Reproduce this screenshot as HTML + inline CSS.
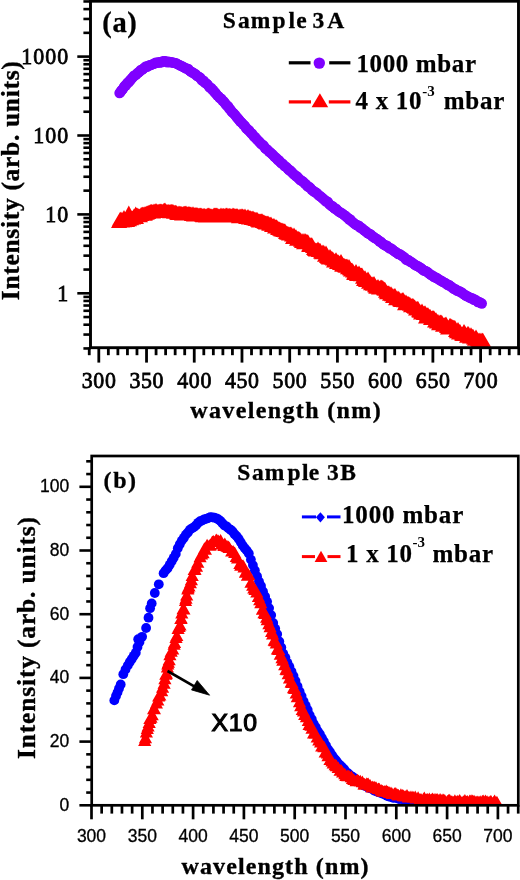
<!DOCTYPE html><html><head><meta charset="utf-8"><title>PL spectra</title><style>html,body{margin:0;padding:0;background:#fff;width:520px;height:880px;overflow:hidden}svg{display:block;filter:blur(0.3px)}</style></head><body>
<svg width="520" height="880" viewBox="0 0 520 880">
<rect x="0" y="0" width="520" height="880" fill="#fff"/>
<defs><clipPath id="ca"><rect x="90.5" y="1.2" width="428" height="346.3"/></clipPath><clipPath id="cb"><rect x="91.7" y="456" width="426.6" height="349.3"/></clipPath></defs>
<g clip-path="url(#ca)">
<circle cx="119.5" cy="93.1" r="5.2" fill="#7f00ff"/>
<circle cx="120.4" cy="92.3" r="5.2" fill="#7f00ff"/>
<circle cx="121.2" cy="90.8" r="5.2" fill="#7f00ff"/>
<circle cx="122.1" cy="89.9" r="5.2" fill="#7f00ff"/>
<circle cx="123.0" cy="88.7" r="5.2" fill="#7f00ff"/>
<circle cx="124.0" cy="86.9" r="5.2" fill="#7f00ff"/>
<circle cx="124.9" cy="85.6" r="5.2" fill="#7f00ff"/>
<circle cx="125.8" cy="85.5" r="5.2" fill="#7f00ff"/>
<circle cx="126.8" cy="83.6" r="5.2" fill="#7f00ff"/>
<circle cx="127.8" cy="82.4" r="5.2" fill="#7f00ff"/>
<circle cx="128.8" cy="82.2" r="5.2" fill="#7f00ff"/>
<circle cx="129.8" cy="80.5" r="5.2" fill="#7f00ff"/>
<circle cx="130.8" cy="79.8" r="5.2" fill="#7f00ff"/>
<circle cx="131.8" cy="78.3" r="5.2" fill="#7f00ff"/>
<circle cx="132.9" cy="77.4" r="5.2" fill="#7f00ff"/>
<circle cx="133.9" cy="75.8" r="5.2" fill="#7f00ff"/>
<circle cx="135.0" cy="75.4" r="5.2" fill="#7f00ff"/>
<circle cx="136.2" cy="74.6" r="5.2" fill="#7f00ff"/>
<circle cx="137.3" cy="73.2" r="5.2" fill="#7f00ff"/>
<circle cx="138.4" cy="72.5" r="5.2" fill="#7f00ff"/>
<circle cx="139.6" cy="71.5" r="5.2" fill="#7f00ff"/>
<circle cx="140.8" cy="69.9" r="5.2" fill="#7f00ff"/>
<circle cx="142.0" cy="69.8" r="5.2" fill="#7f00ff"/>
<circle cx="143.3" cy="68.8" r="5.2" fill="#7f00ff"/>
<circle cx="144.5" cy="67.6" r="5.2" fill="#7f00ff"/>
<circle cx="145.8" cy="66.5" r="5.2" fill="#7f00ff"/>
<circle cx="147.1" cy="66.8" r="5.2" fill="#7f00ff"/>
<circle cx="148.5" cy="65.6" r="5.2" fill="#7f00ff"/>
<circle cx="149.8" cy="65.3" r="5.2" fill="#7f00ff"/>
<circle cx="151.2" cy="64.9" r="5.2" fill="#7f00ff"/>
<circle cx="152.6" cy="64.1" r="5.2" fill="#7f00ff"/>
<circle cx="154.0" cy="63.9" r="5.2" fill="#7f00ff"/>
<circle cx="155.4" cy="62.8" r="5.2" fill="#7f00ff"/>
<circle cx="156.9" cy="62.9" r="5.2" fill="#7f00ff"/>
<circle cx="158.3" cy="62.2" r="5.2" fill="#7f00ff"/>
<circle cx="159.8" cy="62.5" r="5.2" fill="#7f00ff"/>
<circle cx="161.3" cy="62.3" r="5.2" fill="#7f00ff"/>
<circle cx="162.8" cy="61.2" r="5.2" fill="#7f00ff"/>
<circle cx="164.3" cy="61.2" r="5.2" fill="#7f00ff"/>
<circle cx="165.8" cy="61.3" r="5.2" fill="#7f00ff"/>
<circle cx="167.3" cy="62.3" r="5.2" fill="#7f00ff"/>
<circle cx="168.8" cy="61.8" r="5.2" fill="#7f00ff"/>
<circle cx="170.3" cy="62.2" r="5.2" fill="#7f00ff"/>
<circle cx="171.8" cy="62.1" r="5.2" fill="#7f00ff"/>
<circle cx="173.2" cy="62.7" r="5.2" fill="#7f00ff"/>
<circle cx="174.7" cy="62.9" r="5.2" fill="#7f00ff"/>
<circle cx="176.1" cy="63.3" r="5.2" fill="#7f00ff"/>
<circle cx="177.5" cy="64.1" r="5.2" fill="#7f00ff"/>
<circle cx="178.9" cy="64.6" r="5.2" fill="#7f00ff"/>
<circle cx="180.3" cy="65.6" r="5.2" fill="#7f00ff"/>
<circle cx="181.7" cy="66.0" r="5.2" fill="#7f00ff"/>
<circle cx="183.0" cy="66.9" r="5.2" fill="#7f00ff"/>
<circle cx="184.4" cy="67.5" r="5.2" fill="#7f00ff"/>
<circle cx="185.7" cy="68.4" r="5.2" fill="#7f00ff"/>
<circle cx="187.0" cy="68.8" r="5.2" fill="#7f00ff"/>
<circle cx="188.3" cy="68.9" r="5.2" fill="#7f00ff"/>
<circle cx="189.5" cy="70.6" r="5.2" fill="#7f00ff"/>
<circle cx="190.8" cy="71.5" r="5.2" fill="#7f00ff"/>
<circle cx="192.0" cy="72.3" r="5.2" fill="#7f00ff"/>
<circle cx="193.2" cy="72.8" r="5.2" fill="#7f00ff"/>
<circle cx="194.4" cy="73.8" r="5.2" fill="#7f00ff"/>
<circle cx="195.6" cy="74.1" r="5.2" fill="#7f00ff"/>
<circle cx="196.8" cy="75.8" r="5.2" fill="#7f00ff"/>
<circle cx="198.0" cy="76.4" r="5.2" fill="#7f00ff"/>
<circle cx="199.1" cy="77.0" r="5.2" fill="#7f00ff"/>
<circle cx="200.3" cy="77.7" r="5.2" fill="#7f00ff"/>
<circle cx="201.4" cy="79.7" r="5.2" fill="#7f00ff"/>
<circle cx="202.5" cy="80.8" r="5.2" fill="#7f00ff"/>
<circle cx="203.7" cy="80.7" r="5.2" fill="#7f00ff"/>
<circle cx="204.8" cy="82.6" r="5.2" fill="#7f00ff"/>
<circle cx="205.9" cy="83.2" r="5.2" fill="#7f00ff"/>
<circle cx="207.0" cy="83.9" r="5.2" fill="#7f00ff"/>
<circle cx="208.0" cy="85.1" r="5.2" fill="#7f00ff"/>
<circle cx="209.1" cy="86.7" r="5.2" fill="#7f00ff"/>
<circle cx="210.2" cy="87.9" r="5.2" fill="#7f00ff"/>
<circle cx="211.2" cy="88.0" r="5.2" fill="#7f00ff"/>
<circle cx="212.3" cy="89.7" r="5.2" fill="#7f00ff"/>
<circle cx="213.3" cy="90.1" r="5.2" fill="#7f00ff"/>
<circle cx="214.3" cy="92.0" r="5.2" fill="#7f00ff"/>
<circle cx="215.4" cy="92.6" r="5.2" fill="#7f00ff"/>
<circle cx="216.4" cy="94.4" r="5.2" fill="#7f00ff"/>
<circle cx="217.4" cy="95.6" r="5.2" fill="#7f00ff"/>
<circle cx="218.4" cy="96.1" r="5.2" fill="#7f00ff"/>
<circle cx="219.5" cy="97.8" r="5.2" fill="#7f00ff"/>
<circle cx="220.5" cy="98.1" r="5.2" fill="#7f00ff"/>
<circle cx="221.5" cy="99.0" r="5.2" fill="#7f00ff"/>
<circle cx="222.5" cy="100.7" r="5.2" fill="#7f00ff"/>
<circle cx="223.5" cy="101.1" r="5.2" fill="#7f00ff"/>
<circle cx="224.5" cy="102.5" r="5.2" fill="#7f00ff"/>
<circle cx="225.4" cy="103.8" r="5.2" fill="#7f00ff"/>
<circle cx="226.4" cy="105.2" r="5.2" fill="#7f00ff"/>
<circle cx="227.4" cy="105.8" r="5.2" fill="#7f00ff"/>
<circle cx="228.4" cy="106.8" r="5.2" fill="#7f00ff"/>
<circle cx="229.4" cy="108.9" r="5.2" fill="#7f00ff"/>
<circle cx="230.4" cy="109.4" r="5.2" fill="#7f00ff"/>
<circle cx="231.4" cy="111.3" r="5.2" fill="#7f00ff"/>
<circle cx="232.3" cy="112.4" r="5.2" fill="#7f00ff"/>
<circle cx="233.3" cy="112.9" r="5.2" fill="#7f00ff"/>
<circle cx="234.3" cy="114.1" r="5.2" fill="#7f00ff"/>
<circle cx="235.3" cy="115.3" r="5.2" fill="#7f00ff"/>
<circle cx="236.3" cy="116.6" r="5.2" fill="#7f00ff"/>
<circle cx="237.2" cy="117.7" r="5.2" fill="#7f00ff"/>
<circle cx="238.2" cy="118.8" r="5.2" fill="#7f00ff"/>
<circle cx="239.2" cy="120.0" r="5.2" fill="#7f00ff"/>
<circle cx="240.2" cy="121.5" r="5.2" fill="#7f00ff"/>
<circle cx="241.2" cy="122.1" r="5.2" fill="#7f00ff"/>
<circle cx="242.2" cy="123.1" r="5.2" fill="#7f00ff"/>
<circle cx="243.2" cy="124.6" r="5.2" fill="#7f00ff"/>
<circle cx="244.1" cy="125.1" r="5.2" fill="#7f00ff"/>
<circle cx="245.1" cy="126.3" r="5.2" fill="#7f00ff"/>
<circle cx="246.1" cy="128.3" r="5.2" fill="#7f00ff"/>
<circle cx="247.1" cy="128.8" r="5.2" fill="#7f00ff"/>
<circle cx="248.1" cy="130.0" r="5.2" fill="#7f00ff"/>
<circle cx="249.2" cy="130.5" r="5.2" fill="#7f00ff"/>
<circle cx="250.2" cy="132.1" r="5.2" fill="#7f00ff"/>
<circle cx="251.2" cy="133.4" r="5.2" fill="#7f00ff"/>
<circle cx="252.2" cy="133.8" r="5.2" fill="#7f00ff"/>
<circle cx="253.2" cy="135.6" r="5.2" fill="#7f00ff"/>
<circle cx="254.2" cy="136.7" r="5.2" fill="#7f00ff"/>
<circle cx="255.3" cy="137.1" r="5.2" fill="#7f00ff"/>
<circle cx="256.3" cy="138.9" r="5.2" fill="#7f00ff"/>
<circle cx="257.4" cy="139.8" r="5.2" fill="#7f00ff"/>
<circle cx="258.4" cy="141.1" r="5.2" fill="#7f00ff"/>
<circle cx="259.4" cy="141.8" r="5.2" fill="#7f00ff"/>
<circle cx="260.5" cy="143.3" r="5.2" fill="#7f00ff"/>
<circle cx="261.5" cy="144.4" r="5.2" fill="#7f00ff"/>
<circle cx="262.6" cy="144.6" r="5.2" fill="#7f00ff"/>
<circle cx="263.7" cy="145.7" r="5.2" fill="#7f00ff"/>
<circle cx="264.7" cy="147.5" r="5.2" fill="#7f00ff"/>
<circle cx="265.8" cy="148.9" r="5.2" fill="#7f00ff"/>
<circle cx="266.9" cy="149.1" r="5.2" fill="#7f00ff"/>
<circle cx="268.0" cy="150.4" r="5.2" fill="#7f00ff"/>
<circle cx="269.0" cy="151.6" r="5.2" fill="#7f00ff"/>
<circle cx="270.1" cy="152.3" r="5.2" fill="#7f00ff"/>
<circle cx="271.2" cy="153.4" r="5.2" fill="#7f00ff"/>
<circle cx="272.3" cy="154.3" r="5.2" fill="#7f00ff"/>
<circle cx="273.4" cy="155.4" r="5.2" fill="#7f00ff"/>
<circle cx="274.5" cy="156.7" r="5.2" fill="#7f00ff"/>
<circle cx="275.6" cy="157.4" r="5.2" fill="#7f00ff"/>
<circle cx="276.7" cy="158.5" r="5.2" fill="#7f00ff"/>
<circle cx="277.8" cy="160.0" r="5.2" fill="#7f00ff"/>
<circle cx="278.9" cy="160.1" r="5.2" fill="#7f00ff"/>
<circle cx="280.0" cy="161.8" r="5.2" fill="#7f00ff"/>
<circle cx="281.1" cy="163.0" r="5.2" fill="#7f00ff"/>
<circle cx="282.2" cy="163.5" r="5.2" fill="#7f00ff"/>
<circle cx="283.3" cy="164.4" r="5.2" fill="#7f00ff"/>
<circle cx="284.4" cy="166.1" r="5.2" fill="#7f00ff"/>
<circle cx="285.5" cy="166.4" r="5.2" fill="#7f00ff"/>
<circle cx="286.7" cy="167.4" r="5.2" fill="#7f00ff"/>
<circle cx="287.8" cy="168.7" r="5.2" fill="#7f00ff"/>
<circle cx="288.9" cy="170.0" r="5.2" fill="#7f00ff"/>
<circle cx="290.0" cy="170.3" r="5.2" fill="#7f00ff"/>
<circle cx="291.1" cy="171.5" r="5.2" fill="#7f00ff"/>
<circle cx="292.3" cy="172.5" r="5.2" fill="#7f00ff"/>
<circle cx="293.4" cy="174.1" r="5.2" fill="#7f00ff"/>
<circle cx="294.5" cy="174.6" r="5.2" fill="#7f00ff"/>
<circle cx="295.7" cy="176.1" r="5.2" fill="#7f00ff"/>
<circle cx="296.8" cy="176.3" r="5.2" fill="#7f00ff"/>
<circle cx="297.9" cy="177.5" r="5.2" fill="#7f00ff"/>
<circle cx="299.1" cy="178.8" r="5.2" fill="#7f00ff"/>
<circle cx="300.2" cy="180.1" r="5.2" fill="#7f00ff"/>
<circle cx="301.3" cy="180.5" r="5.2" fill="#7f00ff"/>
<circle cx="302.5" cy="181.2" r="5.2" fill="#7f00ff"/>
<circle cx="303.6" cy="182.1" r="5.2" fill="#7f00ff"/>
<circle cx="304.8" cy="183.6" r="5.2" fill="#7f00ff"/>
<circle cx="305.9" cy="184.1" r="5.2" fill="#7f00ff"/>
<circle cx="307.0" cy="185.8" r="5.2" fill="#7f00ff"/>
<circle cx="308.2" cy="186.8" r="5.2" fill="#7f00ff"/>
<circle cx="309.3" cy="187.0" r="5.2" fill="#7f00ff"/>
<circle cx="310.5" cy="188.1" r="5.2" fill="#7f00ff"/>
<circle cx="311.6" cy="189.7" r="5.2" fill="#7f00ff"/>
<circle cx="312.8" cy="190.4" r="5.2" fill="#7f00ff"/>
<circle cx="313.9" cy="191.6" r="5.2" fill="#7f00ff"/>
<circle cx="315.1" cy="192.0" r="5.2" fill="#7f00ff"/>
<circle cx="316.3" cy="192.7" r="5.2" fill="#7f00ff"/>
<circle cx="317.4" cy="193.8" r="5.2" fill="#7f00ff"/>
<circle cx="318.6" cy="195.4" r="5.2" fill="#7f00ff"/>
<circle cx="319.7" cy="195.7" r="5.2" fill="#7f00ff"/>
<circle cx="320.9" cy="196.8" r="5.2" fill="#7f00ff"/>
<circle cx="322.1" cy="197.8" r="5.2" fill="#7f00ff"/>
<circle cx="323.2" cy="198.7" r="5.2" fill="#7f00ff"/>
<circle cx="324.4" cy="199.7" r="5.2" fill="#7f00ff"/>
<circle cx="325.6" cy="201.2" r="5.2" fill="#7f00ff"/>
<circle cx="326.7" cy="201.2" r="5.2" fill="#7f00ff"/>
<circle cx="327.9" cy="202.0" r="5.2" fill="#7f00ff"/>
<circle cx="329.1" cy="204.1" r="5.2" fill="#7f00ff"/>
<circle cx="330.3" cy="204.9" r="5.2" fill="#7f00ff"/>
<circle cx="331.4" cy="206.0" r="5.2" fill="#7f00ff"/>
<circle cx="332.6" cy="206.2" r="5.2" fill="#7f00ff"/>
<circle cx="333.8" cy="207.8" r="5.2" fill="#7f00ff"/>
<circle cx="335.0" cy="208.7" r="5.2" fill="#7f00ff"/>
<circle cx="336.1" cy="208.8" r="5.2" fill="#7f00ff"/>
<circle cx="337.3" cy="210.3" r="5.2" fill="#7f00ff"/>
<circle cx="338.5" cy="211.3" r="5.2" fill="#7f00ff"/>
<circle cx="339.7" cy="212.1" r="5.2" fill="#7f00ff"/>
<circle cx="340.9" cy="212.8" r="5.2" fill="#7f00ff"/>
<circle cx="342.1" cy="213.4" r="5.2" fill="#7f00ff"/>
<circle cx="343.3" cy="214.4" r="5.2" fill="#7f00ff"/>
<circle cx="344.5" cy="215.2" r="5.2" fill="#7f00ff"/>
<circle cx="345.7" cy="215.9" r="5.2" fill="#7f00ff"/>
<circle cx="346.8" cy="217.4" r="5.2" fill="#7f00ff"/>
<circle cx="348.0" cy="218.0" r="5.2" fill="#7f00ff"/>
<circle cx="349.2" cy="219.5" r="5.2" fill="#7f00ff"/>
<circle cx="350.4" cy="219.5" r="5.2" fill="#7f00ff"/>
<circle cx="351.6" cy="221.4" r="5.2" fill="#7f00ff"/>
<circle cx="352.8" cy="222.1" r="5.2" fill="#7f00ff"/>
<circle cx="354.0" cy="223.2" r="5.2" fill="#7f00ff"/>
<circle cx="355.2" cy="224.1" r="5.2" fill="#7f00ff"/>
<circle cx="356.4" cy="225.0" r="5.2" fill="#7f00ff"/>
<circle cx="357.7" cy="225.5" r="5.2" fill="#7f00ff"/>
<circle cx="358.9" cy="225.7" r="5.2" fill="#7f00ff"/>
<circle cx="360.1" cy="227.5" r="5.2" fill="#7f00ff"/>
<circle cx="361.3" cy="227.7" r="5.2" fill="#7f00ff"/>
<circle cx="362.5" cy="228.7" r="5.2" fill="#7f00ff"/>
<circle cx="363.7" cy="230.0" r="5.2" fill="#7f00ff"/>
<circle cx="364.9" cy="230.8" r="5.2" fill="#7f00ff"/>
<circle cx="366.1" cy="231.5" r="5.2" fill="#7f00ff"/>
<circle cx="367.4" cy="233.0" r="5.2" fill="#7f00ff"/>
<circle cx="368.6" cy="233.5" r="5.2" fill="#7f00ff"/>
<circle cx="369.8" cy="234.0" r="5.2" fill="#7f00ff"/>
<circle cx="371.0" cy="234.8" r="5.2" fill="#7f00ff"/>
<circle cx="372.2" cy="236.4" r="5.2" fill="#7f00ff"/>
<circle cx="373.5" cy="236.8" r="5.2" fill="#7f00ff"/>
<circle cx="374.7" cy="238.0" r="5.2" fill="#7f00ff"/>
<circle cx="375.9" cy="238.4" r="5.2" fill="#7f00ff"/>
<circle cx="377.1" cy="239.1" r="5.2" fill="#7f00ff"/>
<circle cx="378.4" cy="240.3" r="5.2" fill="#7f00ff"/>
<circle cx="379.6" cy="241.5" r="5.2" fill="#7f00ff"/>
<circle cx="380.8" cy="241.6" r="5.2" fill="#7f00ff"/>
<circle cx="382.1" cy="243.2" r="5.2" fill="#7f00ff"/>
<circle cx="383.3" cy="244.2" r="5.2" fill="#7f00ff"/>
<circle cx="384.5" cy="244.9" r="5.2" fill="#7f00ff"/>
<circle cx="385.8" cy="245.8" r="5.2" fill="#7f00ff"/>
<circle cx="387.0" cy="245.7" r="5.2" fill="#7f00ff"/>
<circle cx="388.3" cy="247.2" r="5.2" fill="#7f00ff"/>
<circle cx="389.5" cy="248.4" r="5.2" fill="#7f00ff"/>
<circle cx="390.7" cy="248.2" r="5.2" fill="#7f00ff"/>
<circle cx="392.0" cy="249.3" r="5.2" fill="#7f00ff"/>
<circle cx="393.2" cy="250.2" r="5.2" fill="#7f00ff"/>
<circle cx="394.5" cy="251.3" r="5.2" fill="#7f00ff"/>
<circle cx="395.7" cy="252.0" r="5.2" fill="#7f00ff"/>
<circle cx="397.0" cy="252.9" r="5.2" fill="#7f00ff"/>
<circle cx="398.2" cy="254.1" r="5.2" fill="#7f00ff"/>
<circle cx="399.5" cy="254.0" r="5.2" fill="#7f00ff"/>
<circle cx="400.7" cy="254.9" r="5.2" fill="#7f00ff"/>
<circle cx="402.0" cy="255.8" r="5.2" fill="#7f00ff"/>
<circle cx="403.2" cy="256.6" r="5.2" fill="#7f00ff"/>
<circle cx="404.5" cy="257.4" r="5.2" fill="#7f00ff"/>
<circle cx="405.7" cy="259.3" r="5.2" fill="#7f00ff"/>
<circle cx="407.0" cy="260.0" r="5.2" fill="#7f00ff"/>
<circle cx="408.3" cy="259.9" r="5.2" fill="#7f00ff"/>
<circle cx="409.5" cy="261.2" r="5.2" fill="#7f00ff"/>
<circle cx="410.8" cy="261.8" r="5.2" fill="#7f00ff"/>
<circle cx="412.0" cy="262.6" r="5.2" fill="#7f00ff"/>
<circle cx="413.3" cy="263.4" r="5.2" fill="#7f00ff"/>
<circle cx="414.6" cy="264.6" r="5.2" fill="#7f00ff"/>
<circle cx="415.8" cy="265.3" r="5.2" fill="#7f00ff"/>
<circle cx="417.1" cy="265.9" r="5.2" fill="#7f00ff"/>
<circle cx="418.4" cy="266.5" r="5.2" fill="#7f00ff"/>
<circle cx="419.6" cy="267.4" r="5.2" fill="#7f00ff"/>
<circle cx="420.9" cy="268.0" r="5.2" fill="#7f00ff"/>
<circle cx="422.2" cy="269.3" r="5.2" fill="#7f00ff"/>
<circle cx="423.4" cy="270.3" r="5.2" fill="#7f00ff"/>
<circle cx="424.7" cy="270.7" r="5.2" fill="#7f00ff"/>
<circle cx="426.0" cy="271.1" r="5.2" fill="#7f00ff"/>
<circle cx="427.3" cy="272.0" r="5.2" fill="#7f00ff"/>
<circle cx="428.5" cy="273.0" r="5.2" fill="#7f00ff"/>
<circle cx="429.8" cy="274.1" r="5.2" fill="#7f00ff"/>
<circle cx="431.1" cy="275.1" r="5.2" fill="#7f00ff"/>
<circle cx="432.4" cy="275.4" r="5.2" fill="#7f00ff"/>
<circle cx="433.7" cy="276.7" r="5.2" fill="#7f00ff"/>
<circle cx="435.0" cy="277.2" r="5.2" fill="#7f00ff"/>
<circle cx="436.2" cy="277.8" r="5.2" fill="#7f00ff"/>
<circle cx="437.5" cy="278.5" r="5.2" fill="#7f00ff"/>
<circle cx="438.8" cy="279.4" r="5.2" fill="#7f00ff"/>
<circle cx="440.1" cy="280.4" r="5.2" fill="#7f00ff"/>
<circle cx="441.4" cy="280.8" r="5.2" fill="#7f00ff"/>
<circle cx="442.7" cy="281.9" r="5.2" fill="#7f00ff"/>
<circle cx="444.0" cy="282.4" r="5.2" fill="#7f00ff"/>
<circle cx="445.2" cy="282.9" r="5.2" fill="#7f00ff"/>
<circle cx="446.5" cy="284.0" r="5.2" fill="#7f00ff"/>
<circle cx="447.8" cy="285.0" r="5.2" fill="#7f00ff"/>
<circle cx="449.1" cy="285.0" r="5.2" fill="#7f00ff"/>
<circle cx="450.4" cy="286.2" r="5.2" fill="#7f00ff"/>
<circle cx="451.7" cy="286.9" r="5.2" fill="#7f00ff"/>
<circle cx="453.0" cy="288.2" r="5.2" fill="#7f00ff"/>
<circle cx="454.3" cy="289.1" r="5.2" fill="#7f00ff"/>
<circle cx="455.6" cy="289.1" r="5.2" fill="#7f00ff"/>
<circle cx="456.9" cy="290.5" r="5.2" fill="#7f00ff"/>
<circle cx="458.2" cy="291.1" r="5.2" fill="#7f00ff"/>
<circle cx="459.5" cy="291.2" r="5.2" fill="#7f00ff"/>
<circle cx="460.8" cy="292.2" r="5.2" fill="#7f00ff"/>
<circle cx="462.1" cy="292.6" r="5.2" fill="#7f00ff"/>
<circle cx="463.4" cy="294.1" r="5.2" fill="#7f00ff"/>
<circle cx="464.7" cy="294.7" r="5.2" fill="#7f00ff"/>
<circle cx="466.0" cy="295.7" r="5.2" fill="#7f00ff"/>
<circle cx="467.3" cy="296.3" r="5.2" fill="#7f00ff"/>
<circle cx="468.6" cy="296.9" r="5.2" fill="#7f00ff"/>
<circle cx="470.0" cy="297.7" r="5.2" fill="#7f00ff"/>
<circle cx="471.3" cy="298.2" r="5.2" fill="#7f00ff"/>
<circle cx="472.6" cy="298.4" r="5.2" fill="#7f00ff"/>
<circle cx="473.9" cy="299.7" r="5.2" fill="#7f00ff"/>
<circle cx="475.2" cy="299.8" r="5.2" fill="#7f00ff"/>
<circle cx="476.5" cy="300.6" r="5.2" fill="#7f00ff"/>
<circle cx="477.8" cy="302.1" r="5.2" fill="#7f00ff"/>
<circle cx="479.1" cy="302.0" r="5.2" fill="#7f00ff"/>
<circle cx="480.5" cy="302.7" r="5.2" fill="#7f00ff"/>
<circle cx="481.8" cy="303.5" r="5.2" fill="#7f00ff"/>
<path d="M111.0,228.0L127.0,228.0L119.0,214.2ZM112.0,225.8L128.0,225.8L120.0,212.0ZM113.0,225.2L129.0,225.2L121.0,211.4ZM114.0,227.5L130.0,227.5L122.0,213.7ZM115.0,225.2L131.0,225.2L123.0,211.4ZM116.0,227.2L132.0,227.2L124.0,213.4ZM117.0,226.5L133.0,226.5L125.0,212.7ZM118.0,226.8L134.0,226.8L126.0,213.0ZM119.0,227.0L135.0,227.0L127.0,213.2ZM120.0,225.7L136.0,225.7L128.0,211.9ZM121.0,226.2L137.0,226.2L129.0,212.4ZM122.0,223.5L138.0,223.5L130.0,209.7ZM123.0,225.3L139.0,225.3L131.0,211.5ZM124.0,224.2L140.0,224.2L132.0,210.4ZM125.0,224.4L141.0,224.4L133.0,210.6ZM126.0,222.2L142.0,222.2L134.0,208.4ZM127.0,223.8L143.0,223.8L135.0,210.0ZM128.0,224.1L144.0,224.1L136.0,210.3ZM129.0,221.2L145.0,221.2L137.0,207.4ZM130.0,221.7L146.0,221.7L138.0,207.9ZM131.0,222.2L147.0,222.2L139.0,208.4ZM132.0,222.2L148.0,222.2L140.0,208.4ZM133.0,221.0L149.0,221.0L141.0,207.2ZM134.0,220.6L150.0,220.6L142.0,206.8ZM135.0,220.4L151.0,220.4L143.0,206.6ZM136.0,220.7L152.0,220.7L144.0,206.9ZM137.0,220.6L153.0,220.6L145.0,206.8ZM138.0,219.7L154.0,219.7L146.0,205.9ZM139.0,219.4L155.0,219.4L147.0,205.6ZM140.0,219.1L156.0,219.1L148.0,205.3ZM141.0,218.6L157.0,218.6L149.0,204.8ZM142.0,218.3L158.0,218.3L150.0,204.5ZM143.0,217.5L159.0,217.5L151.0,203.7ZM144.0,217.8L160.0,217.8L152.0,204.0ZM145.0,218.4L161.0,218.4L153.0,204.6ZM146.0,217.3L162.0,217.3L154.0,203.5ZM147.0,217.8L163.0,217.8L155.0,204.0ZM148.0,216.8L164.0,216.8L156.0,203.0ZM149.0,217.7L165.0,217.7L157.0,203.9ZM150.0,217.7L166.0,217.7L158.0,203.9ZM151.0,217.5L167.0,217.5L159.0,203.7ZM152.0,217.2L168.0,217.2L160.0,203.4ZM153.0,217.2L169.0,217.2L161.0,203.4ZM154.0,217.6L170.0,217.6L162.0,203.8ZM155.0,217.8L171.0,217.8L163.0,204.0ZM156.0,216.5L172.0,216.5L164.0,202.7ZM157.0,216.4L173.0,216.4L165.0,202.6ZM158.0,217.6L174.0,217.6L166.0,203.8ZM159.0,218.1L175.0,218.1L167.0,204.3ZM160.0,217.7L176.0,217.7L168.0,203.9ZM161.0,217.7L177.0,217.7L169.0,203.9ZM162.0,218.3L178.0,218.3L170.0,204.5ZM163.0,217.6L179.0,217.6L171.0,203.8ZM164.0,217.9L180.0,217.9L172.0,204.1ZM165.0,217.9L181.0,217.9L173.0,204.1ZM166.0,218.7L182.0,218.7L174.0,204.9ZM167.0,218.5L183.0,218.5L175.0,204.7ZM168.0,218.5L184.0,218.5L176.0,204.7ZM169.0,219.5L185.0,219.5L177.0,205.7ZM170.0,220.1L186.0,220.1L178.0,206.3ZM171.0,219.2L187.0,219.2L179.0,205.4ZM172.0,219.9L188.0,219.9L180.0,206.1ZM173.0,219.6L189.0,219.6L181.0,205.8ZM174.0,220.4L190.0,220.4L182.0,206.6ZM175.0,220.1L191.0,220.1L183.0,206.3ZM176.0,219.6L192.0,219.6L184.0,205.8ZM177.0,219.6L193.0,219.6L185.0,205.8ZM178.0,219.4L194.0,219.4L186.0,205.6ZM179.0,220.2L195.0,220.2L187.0,206.4ZM180.0,220.1L196.0,220.1L188.0,206.3ZM181.0,219.8L197.0,219.8L189.0,206.0ZM182.0,220.2L198.0,220.2L190.0,206.4ZM183.0,220.2L199.0,220.2L191.0,206.4ZM184.0,221.0L200.0,221.0L192.0,207.2ZM185.0,220.0L201.0,220.0L193.0,206.2ZM186.0,221.4L202.0,221.4L194.0,207.6ZM187.0,220.7L203.0,220.7L195.0,206.9ZM188.0,221.0L204.0,221.0L196.0,207.2ZM189.0,220.9L205.0,220.9L197.0,207.1ZM190.0,221.6L206.0,221.6L198.0,207.8ZM191.0,221.6L207.0,221.6L199.0,207.8ZM192.0,221.3L208.0,221.3L200.0,207.5ZM193.0,221.3L209.0,221.3L201.0,207.5ZM194.0,221.8L210.0,221.8L202.0,208.0ZM195.0,222.2L211.0,222.2L203.0,208.4ZM196.0,221.5L212.0,221.5L204.0,207.7ZM197.0,222.1L213.0,222.1L205.0,208.3ZM198.0,222.5L214.0,222.5L206.0,208.7ZM199.0,221.7L215.0,221.7L207.0,207.9ZM200.0,221.4L216.0,221.4L208.0,207.6ZM201.0,221.4L217.0,221.4L209.0,207.6ZM202.0,222.1L218.0,222.1L210.0,208.3ZM203.0,222.1L219.0,222.1L211.0,208.3ZM204.0,222.5L220.0,222.5L212.0,208.7ZM205.0,222.4L221.0,222.4L213.0,208.6ZM206.0,221.4L222.0,221.4L214.0,207.6ZM207.0,221.3L223.0,221.3L215.0,207.5ZM208.0,221.4L224.0,221.4L216.0,207.6ZM209.0,221.3L225.0,221.3L217.0,207.5ZM210.0,222.1L226.0,222.1L218.0,208.3ZM211.0,222.4L227.0,222.4L219.0,208.6ZM212.0,222.4L228.0,222.4L220.0,208.6ZM213.0,221.4L229.0,221.4L221.0,207.6ZM214.0,222.3L230.0,222.3L222.0,208.5ZM215.0,221.5L231.0,221.5L223.0,207.7ZM216.0,221.7L232.0,221.7L224.0,207.9ZM217.0,222.2L233.0,222.2L225.0,208.4ZM218.0,221.2L234.0,221.2L226.0,207.4ZM219.0,221.2L235.0,221.2L227.0,207.4ZM220.0,222.4L236.0,222.4L228.0,208.6ZM221.0,221.6L237.0,221.6L229.0,207.8ZM222.0,221.7L238.0,221.7L230.0,207.9ZM223.0,222.1L239.0,222.1L231.0,208.3ZM224.0,222.3L240.0,222.3L232.0,208.5ZM225.0,221.2L241.0,221.2L233.0,207.4ZM226.0,221.8L242.0,221.8L234.0,208.0ZM227.0,222.0L243.0,222.0L235.0,208.2ZM228.0,222.2L244.0,222.2L236.0,208.4ZM229.0,221.8L245.0,221.8L237.0,208.0ZM230.0,222.5L246.0,222.5L238.0,208.7ZM231.0,223.2L247.0,223.2L239.0,209.4ZM232.0,222.3L248.0,222.3L240.0,208.5ZM233.0,222.7L249.0,222.7L241.0,208.9ZM234.0,222.1L250.0,222.1L242.0,208.3ZM235.0,222.5L251.0,222.5L243.0,208.7ZM236.0,223.2L252.0,223.2L244.0,209.4ZM237.0,222.4L253.0,222.4L245.0,208.6ZM238.0,223.8L254.0,223.8L246.0,210.0ZM239.0,223.9L255.0,223.9L247.0,210.1ZM240.0,222.8L256.0,222.8L248.0,209.0ZM241.0,224.4L257.0,224.4L249.0,210.6ZM242.0,223.7L258.0,223.7L250.0,209.9ZM243.0,224.6L259.0,224.6L251.0,210.8ZM244.0,224.9L260.0,224.9L252.0,211.1ZM245.0,224.4L261.0,224.4L253.0,210.6ZM246.0,225.3L262.0,225.3L254.0,211.5ZM247.0,225.5L263.0,225.5L255.0,211.7ZM248.0,226.1L264.0,226.1L256.0,212.3ZM249.0,225.5L265.0,225.5L257.0,211.7ZM250.0,226.7L266.0,226.7L258.0,212.9ZM251.0,227.4L267.0,227.4L259.0,213.6ZM252.0,227.3L268.0,227.3L260.0,213.5ZM253.0,227.4L269.0,227.4L261.0,213.6ZM254.0,227.1L270.0,227.1L262.0,213.3ZM255.0,228.1L271.0,228.1L263.0,214.3ZM256.0,228.2L272.0,228.2L264.0,214.4ZM257.0,229.1L273.0,229.1L265.0,215.3ZM258.0,229.4L274.0,229.4L266.0,215.6ZM259.0,229.6L275.0,229.6L267.0,215.8ZM260.0,229.3L276.0,229.3L268.0,215.5ZM261.0,230.4L277.0,230.4L269.0,216.6ZM262.0,230.7L278.0,230.7L270.0,216.9ZM263.0,230.4L279.0,230.4L271.0,216.6ZM264.0,232.0L280.0,232.0L272.0,218.2ZM265.0,232.0L281.0,232.0L273.0,218.2ZM266.0,231.7L282.0,231.7L274.0,217.9ZM267.0,233.5L283.0,233.5L275.0,219.7ZM268.0,232.7L284.0,232.7L276.0,218.9ZM269.0,233.5L285.0,233.5L277.0,219.7ZM270.0,234.7L286.0,234.7L278.0,220.9ZM271.0,235.0L287.0,235.0L279.0,221.2ZM272.0,235.5L288.0,235.5L280.0,221.7ZM273.0,236.2L289.0,236.2L281.0,222.4ZM274.0,236.4L290.0,236.4L282.0,222.6ZM275.0,236.7L291.0,236.7L283.0,222.9ZM276.0,237.0L292.0,237.0L284.0,223.2ZM277.0,237.3L293.0,237.3L285.0,223.5ZM278.0,238.9L294.0,238.9L286.0,225.1ZM279.0,239.5L295.0,239.5L287.0,225.7ZM280.0,239.7L296.0,239.7L288.0,225.9ZM281.0,240.6L297.0,240.6L289.0,226.8ZM282.0,240.2L298.0,240.2L290.0,226.4ZM283.0,240.4L299.0,240.4L291.0,226.6ZM284.0,241.4L300.0,241.4L292.0,227.6ZM285.0,243.9L301.0,243.9L293.0,230.1ZM286.0,241.2L302.0,241.2L294.0,227.4ZM287.0,243.6L303.0,243.6L295.0,229.8ZM288.0,243.1L304.0,243.1L296.0,229.3ZM289.0,245.7L305.0,245.7L297.0,231.9ZM290.0,244.6L306.0,244.6L298.0,230.8ZM291.0,245.0L307.0,245.0L299.0,231.2ZM292.0,245.7L308.0,245.7L300.0,231.9ZM293.0,246.7L309.0,246.7L301.0,232.9ZM294.0,248.1L310.0,248.1L302.0,234.3ZM295.0,246.9L311.0,246.9L303.0,233.1ZM296.0,249.3L312.0,249.3L304.0,235.5ZM297.0,246.8L313.0,246.8L305.0,233.0ZM298.0,247.9L314.0,247.9L306.0,234.1ZM299.0,247.7L315.0,247.7L307.0,233.9ZM300.0,248.4L316.0,248.4L308.0,234.6ZM301.0,251.7L317.0,251.7L309.0,237.9ZM302.0,252.1L318.0,252.1L310.0,238.3ZM303.0,250.7L319.0,250.7L311.0,236.9ZM304.0,251.4L320.0,251.4L312.0,237.6ZM305.0,253.1L321.0,253.1L313.0,239.3ZM306.0,255.1L322.0,255.1L314.0,241.3ZM307.0,256.1L323.0,256.1L315.0,242.3ZM308.0,256.5L324.0,256.5L316.0,242.7ZM309.0,256.5L325.0,256.5L317.0,242.7ZM310.0,255.3L326.0,255.3L318.0,241.5ZM311.0,256.9L327.0,256.9L319.0,243.1ZM312.0,256.6L328.0,256.6L320.0,242.8ZM313.0,258.5L329.0,258.5L321.0,244.7ZM314.0,259.2L330.0,259.2L322.0,245.4ZM315.0,258.2L331.0,258.2L323.0,244.4ZM316.0,259.0L332.0,259.0L324.0,245.2ZM317.0,261.7L333.0,261.7L325.0,247.9ZM318.0,259.2L334.0,259.2L326.0,245.4ZM319.0,262.9L335.0,262.9L327.0,249.1ZM320.0,263.8L336.0,263.8L328.0,250.0ZM321.0,264.6L337.0,264.6L329.0,250.8ZM322.0,262.9L338.0,262.9L330.0,249.1ZM323.0,264.2L339.0,264.2L331.0,250.4ZM324.0,264.8L340.0,264.8L332.0,251.0ZM325.0,265.6L341.0,265.6L333.0,251.8ZM326.0,267.6L342.0,267.6L334.0,253.8ZM327.0,267.0L343.0,267.0L335.0,253.2ZM328.0,266.0L344.0,266.0L336.0,252.2ZM329.0,268.9L345.0,268.9L337.0,255.1ZM330.0,268.0L346.0,268.0L338.0,254.2ZM331.0,269.0L347.0,269.0L339.0,255.2ZM332.0,270.1L348.0,270.1L340.0,256.3ZM333.0,267.8L349.0,267.8L341.0,254.0ZM334.0,271.5L350.0,271.5L342.0,257.7ZM335.0,271.7L351.0,271.7L343.0,257.9ZM336.0,271.6L352.0,271.6L344.0,257.8ZM337.0,272.3L353.0,272.3L345.0,258.5ZM338.0,272.7L354.0,272.7L346.0,258.9ZM339.0,272.2L355.0,272.2L347.0,258.4ZM340.0,274.2L356.0,274.2L348.0,260.4ZM341.0,272.9L357.0,272.9L349.0,259.1ZM342.0,275.3L358.0,275.3L350.0,261.5ZM343.0,276.5L359.0,276.5L351.0,262.7ZM344.0,276.4L360.0,276.4L352.0,262.6ZM345.0,277.5L361.0,277.5L353.0,263.7ZM346.0,279.7L362.0,279.7L354.0,265.9ZM347.0,280.0L363.0,280.0L355.0,266.2ZM348.0,277.7L364.0,277.7L356.0,263.9ZM349.0,280.9L365.0,280.9L357.0,267.1ZM350.0,280.9L366.0,280.9L358.0,267.1ZM351.0,279.2L367.0,279.2L359.0,265.4ZM352.0,281.1L368.0,281.1L360.0,267.3ZM353.0,281.2L369.0,281.2L361.0,267.4ZM354.0,281.2L370.0,281.2L362.0,267.4ZM355.0,283.7L371.0,283.7L363.0,269.9ZM356.0,285.9L372.0,285.9L364.0,272.1ZM357.0,284.1L373.0,284.1L365.0,270.3ZM358.0,287.0L374.0,287.0L366.0,273.2ZM359.0,286.9L375.0,286.9L367.0,273.1ZM360.0,285.3L376.0,285.3L368.0,271.5ZM361.0,288.8L377.0,288.8L369.0,275.0ZM362.0,288.4L378.0,288.4L370.0,274.6ZM363.0,290.3L379.0,290.3L371.0,276.5ZM364.0,290.1L380.0,290.1L372.0,276.3ZM365.0,290.8L381.0,290.8L373.0,277.0ZM366.0,289.8L382.0,289.8L374.0,276.0ZM367.0,292.3L383.0,292.3L375.0,278.5ZM368.0,293.4L384.0,293.4L376.0,279.6ZM369.0,293.7L385.0,293.7L377.0,279.9ZM370.0,292.7L386.0,292.7L378.0,278.9ZM371.0,294.5L387.0,294.5L379.0,280.7ZM372.0,294.1L388.0,294.1L380.0,280.3ZM373.0,293.2L389.0,293.2L381.0,279.4ZM374.0,293.5L390.0,293.5L382.0,279.7ZM375.0,294.3L391.0,294.3L383.0,280.5ZM376.0,295.3L392.0,295.3L384.0,281.5ZM377.0,295.8L393.0,295.8L385.0,282.0ZM378.0,297.7L394.0,297.7L386.0,283.9ZM379.0,299.2L395.0,299.2L387.0,285.4ZM380.0,299.1L396.0,299.1L388.0,285.3ZM381.0,299.2L397.0,299.2L389.0,285.4ZM382.0,300.7L398.0,300.7L390.0,286.9ZM383.0,300.0L399.0,300.0L391.0,286.2ZM384.0,301.2L400.0,301.2L392.0,287.4ZM385.0,303.0L401.0,303.0L393.0,289.2ZM386.0,302.1L402.0,302.1L394.0,288.3ZM387.0,301.9L403.0,301.9L395.0,288.1ZM388.0,305.3L404.0,305.3L396.0,291.5ZM389.0,305.2L405.0,305.2L397.0,291.4ZM390.0,304.4L406.0,304.4L398.0,290.6ZM391.0,305.0L407.0,305.0L399.0,291.2ZM392.0,306.2L408.0,306.2L400.0,292.4ZM393.0,307.1L409.0,307.1L401.0,293.3ZM394.0,306.2L410.0,306.2L402.0,292.4ZM395.0,305.9L411.0,305.9L403.0,292.1ZM396.0,307.3L412.0,307.3L404.0,293.5ZM397.0,310.2L413.0,310.2L405.0,296.4ZM398.0,308.2L414.0,308.2L406.0,294.4ZM399.0,310.1L415.0,310.1L407.0,296.3ZM400.0,309.6L416.0,309.6L408.0,295.8ZM401.0,310.2L417.0,310.2L409.0,296.4ZM402.0,310.7L418.0,310.7L410.0,296.9ZM403.0,312.2L419.0,312.2L411.0,298.4ZM404.0,311.9L420.0,311.9L412.0,298.1ZM405.0,311.9L421.0,311.9L413.0,298.1ZM406.0,312.9L422.0,312.9L414.0,299.1ZM407.0,313.7L423.0,313.7L415.0,299.9ZM408.0,315.6L424.0,315.6L416.0,301.8ZM409.0,314.5L425.0,314.5L417.0,300.7ZM410.0,314.9L426.0,314.9L418.0,301.1ZM411.0,317.2L427.0,317.2L419.0,303.4ZM412.0,317.7L428.0,317.7L420.0,303.9ZM413.0,319.5L429.0,319.5L421.0,305.7ZM414.0,317.4L430.0,317.4L422.0,303.6ZM415.0,319.4L431.0,319.4L423.0,305.6ZM416.0,320.0L432.0,320.0L424.0,306.2ZM417.0,319.1L433.0,319.1L425.0,305.3ZM418.0,323.4L434.0,323.4L426.0,309.6ZM419.0,321.0L435.0,321.0L427.0,307.2ZM420.0,321.1L436.0,321.1L428.0,307.3ZM421.0,323.2L437.0,323.2L429.0,309.4ZM422.0,322.5L438.0,322.5L430.0,308.7ZM423.0,324.9L439.0,324.9L431.0,311.1ZM424.0,324.3L440.0,324.3L432.0,310.5ZM425.0,323.9L441.0,323.9L433.0,310.1ZM426.0,324.2L442.0,324.2L434.0,310.4ZM427.0,327.4L443.0,327.4L435.0,313.6ZM428.0,326.1L444.0,326.1L436.0,312.3ZM429.0,328.6L445.0,328.6L437.0,314.8ZM430.0,327.8L446.0,327.8L438.0,314.0ZM431.0,330.2L447.0,330.2L439.0,316.4ZM432.0,328.2L448.0,328.2L440.0,314.4ZM433.0,328.4L449.0,328.4L441.0,314.6ZM434.0,329.0L450.0,329.0L442.0,315.2ZM435.0,331.7L451.0,331.7L443.0,317.9ZM436.0,331.4L452.0,331.4L444.0,317.6ZM437.0,330.7L453.0,330.7L445.0,316.9ZM438.0,330.2L454.0,330.2L446.0,316.4ZM439.0,333.0L455.0,333.0L447.0,319.2ZM440.0,334.6L456.0,334.6L448.0,320.8ZM441.0,333.5L457.0,333.5L449.0,319.7ZM442.0,331.6L458.0,331.6L450.0,317.8ZM443.0,332.2L459.0,332.2L451.0,318.4ZM444.0,332.9L460.0,332.9L452.0,319.1ZM445.0,333.6L461.0,333.6L453.0,319.8ZM446.0,333.5L462.0,333.5L454.0,319.7ZM447.0,334.0L463.0,334.0L455.0,320.2ZM448.0,336.9L464.0,336.9L456.0,323.1ZM449.0,338.3L465.0,338.3L457.0,324.5ZM450.0,335.9L466.0,335.9L458.0,322.1ZM451.0,339.4L467.0,339.4L459.0,325.6ZM452.0,337.9L468.0,337.9L460.0,324.1ZM453.0,339.6L469.0,339.6L461.0,325.8ZM454.0,340.5L470.0,340.5L462.0,326.7ZM455.0,341.0L471.0,341.0L463.0,327.2ZM456.0,337.8L472.0,337.8L464.0,324.0ZM457.0,339.3L473.0,339.3L465.0,325.5ZM458.0,340.9L474.0,340.9L466.0,327.1ZM459.0,342.7L475.0,342.7L467.0,328.9ZM460.0,339.6L476.0,339.6L468.0,325.8ZM461.0,340.9L477.0,340.9L469.0,327.1ZM462.0,343.5L478.0,343.5L470.0,329.7ZM463.0,341.0L479.0,341.0L471.0,327.2ZM464.0,342.5L480.0,342.5L472.0,328.7ZM465.0,342.6L481.0,342.6L473.0,328.8ZM466.0,344.4L482.0,344.4L474.0,330.6ZM467.0,345.8L483.0,345.8L475.0,332.0ZM468.0,343.2L484.0,343.2L476.0,329.4ZM469.0,345.8L485.0,345.8L477.0,332.0ZM470.0,346.2L486.0,346.2L478.0,332.4ZM471.0,347.0L487.0,347.0L479.0,333.2ZM472.0,346.2L488.0,346.2L480.0,332.4ZM473.0,348.1L489.0,348.1L481.0,334.3ZM474.0,346.2L490.0,346.2L482.0,332.4ZM475.0,346.8L491.0,346.8L483.0,333.0ZM121.8,218.6L135.8,218.6L128.8,205.6ZM128.7,219.6L142.7,219.6L135.7,206.6ZM117.0,223.0L131.0,223.0L124.0,210.0ZM137.9,219.2L151.9,219.2L144.9,206.2Z" fill="#ff0000"/>
</g>
<line x1="89.25" y1="347.50" x2="89.25" y2="355.20" stroke="#000" stroke-width="2.8"/>
<line x1="98.80" y1="347.50" x2="98.80" y2="362.60" stroke="#000" stroke-width="2.8"/>
<line x1="108.34" y1="347.50" x2="108.34" y2="355.20" stroke="#000" stroke-width="2.8"/>
<line x1="117.89" y1="347.50" x2="117.89" y2="355.20" stroke="#000" stroke-width="2.8"/>
<line x1="127.44" y1="347.50" x2="127.44" y2="355.20" stroke="#000" stroke-width="2.8"/>
<line x1="136.98" y1="347.50" x2="136.98" y2="355.20" stroke="#000" stroke-width="2.8"/>
<line x1="146.53" y1="347.50" x2="146.53" y2="362.60" stroke="#000" stroke-width="2.8"/>
<line x1="156.07" y1="347.50" x2="156.07" y2="355.20" stroke="#000" stroke-width="2.8"/>
<line x1="165.62" y1="347.50" x2="165.62" y2="355.20" stroke="#000" stroke-width="2.8"/>
<line x1="175.16" y1="347.50" x2="175.16" y2="355.20" stroke="#000" stroke-width="2.8"/>
<line x1="184.70" y1="347.50" x2="184.70" y2="355.20" stroke="#000" stroke-width="2.8"/>
<line x1="194.25" y1="347.50" x2="194.25" y2="362.60" stroke="#000" stroke-width="2.8"/>
<line x1="203.80" y1="347.50" x2="203.80" y2="355.20" stroke="#000" stroke-width="2.8"/>
<line x1="213.34" y1="347.50" x2="213.34" y2="355.20" stroke="#000" stroke-width="2.8"/>
<line x1="222.88" y1="347.50" x2="222.88" y2="355.20" stroke="#000" stroke-width="2.8"/>
<line x1="232.43" y1="347.50" x2="232.43" y2="355.20" stroke="#000" stroke-width="2.8"/>
<line x1="241.98" y1="347.50" x2="241.98" y2="362.60" stroke="#000" stroke-width="2.8"/>
<line x1="251.52" y1="347.50" x2="251.52" y2="355.20" stroke="#000" stroke-width="2.8"/>
<line x1="261.06" y1="347.50" x2="261.06" y2="355.20" stroke="#000" stroke-width="2.8"/>
<line x1="270.61" y1="347.50" x2="270.61" y2="355.20" stroke="#000" stroke-width="2.8"/>
<line x1="280.15" y1="347.50" x2="280.15" y2="355.20" stroke="#000" stroke-width="2.8"/>
<line x1="289.70" y1="347.50" x2="289.70" y2="362.60" stroke="#000" stroke-width="2.8"/>
<line x1="299.25" y1="347.50" x2="299.25" y2="355.20" stroke="#000" stroke-width="2.8"/>
<line x1="308.79" y1="347.50" x2="308.79" y2="355.20" stroke="#000" stroke-width="2.8"/>
<line x1="318.33" y1="347.50" x2="318.33" y2="355.20" stroke="#000" stroke-width="2.8"/>
<line x1="327.88" y1="347.50" x2="327.88" y2="355.20" stroke="#000" stroke-width="2.8"/>
<line x1="337.43" y1="347.50" x2="337.43" y2="362.60" stroke="#000" stroke-width="2.8"/>
<line x1="346.97" y1="347.50" x2="346.97" y2="355.20" stroke="#000" stroke-width="2.8"/>
<line x1="356.52" y1="347.50" x2="356.52" y2="355.20" stroke="#000" stroke-width="2.8"/>
<line x1="366.06" y1="347.50" x2="366.06" y2="355.20" stroke="#000" stroke-width="2.8"/>
<line x1="375.61" y1="347.50" x2="375.61" y2="355.20" stroke="#000" stroke-width="2.8"/>
<line x1="385.15" y1="347.50" x2="385.15" y2="362.60" stroke="#000" stroke-width="2.8"/>
<line x1="394.69" y1="347.50" x2="394.69" y2="355.20" stroke="#000" stroke-width="2.8"/>
<line x1="404.24" y1="347.50" x2="404.24" y2="355.20" stroke="#000" stroke-width="2.8"/>
<line x1="413.79" y1="347.50" x2="413.79" y2="355.20" stroke="#000" stroke-width="2.8"/>
<line x1="423.33" y1="347.50" x2="423.33" y2="355.20" stroke="#000" stroke-width="2.8"/>
<line x1="432.88" y1="347.50" x2="432.88" y2="362.60" stroke="#000" stroke-width="2.8"/>
<line x1="442.42" y1="347.50" x2="442.42" y2="355.20" stroke="#000" stroke-width="2.8"/>
<line x1="451.97" y1="347.50" x2="451.97" y2="355.20" stroke="#000" stroke-width="2.8"/>
<line x1="461.51" y1="347.50" x2="461.51" y2="355.20" stroke="#000" stroke-width="2.8"/>
<line x1="471.06" y1="347.50" x2="471.06" y2="355.20" stroke="#000" stroke-width="2.8"/>
<line x1="480.60" y1="347.50" x2="480.60" y2="362.60" stroke="#000" stroke-width="2.8"/>
<line x1="490.15" y1="347.50" x2="490.15" y2="355.20" stroke="#000" stroke-width="2.8"/>
<line x1="499.69" y1="347.50" x2="499.69" y2="355.20" stroke="#000" stroke-width="2.8"/>
<line x1="509.24" y1="347.50" x2="509.24" y2="355.20" stroke="#000" stroke-width="2.8"/>
<line x1="518.78" y1="347.50" x2="518.78" y2="355.20" stroke="#000" stroke-width="2.8"/>
<line x1="83.40" y1="348.45" x2="90.50" y2="348.45" stroke="#000" stroke-width="2.6"/>
<line x1="83.40" y1="334.56" x2="90.50" y2="334.56" stroke="#000" stroke-width="2.6"/>
<line x1="83.40" y1="324.70" x2="90.50" y2="324.70" stroke="#000" stroke-width="2.6"/>
<line x1="83.40" y1="317.05" x2="90.50" y2="317.05" stroke="#000" stroke-width="2.6"/>
<line x1="83.40" y1="310.80" x2="90.50" y2="310.80" stroke="#000" stroke-width="2.6"/>
<line x1="83.40" y1="305.52" x2="90.50" y2="305.52" stroke="#000" stroke-width="2.6"/>
<line x1="83.40" y1="300.95" x2="90.50" y2="300.95" stroke="#000" stroke-width="2.6"/>
<line x1="83.40" y1="296.91" x2="90.50" y2="296.91" stroke="#000" stroke-width="2.6"/>
<line x1="77.30" y1="293.30" x2="90.50" y2="293.30" stroke="#000" stroke-width="2.6"/>
<line x1="83.40" y1="269.55" x2="90.50" y2="269.55" stroke="#000" stroke-width="2.6"/>
<line x1="83.40" y1="255.66" x2="90.50" y2="255.66" stroke="#000" stroke-width="2.6"/>
<line x1="83.40" y1="245.80" x2="90.50" y2="245.80" stroke="#000" stroke-width="2.6"/>
<line x1="83.40" y1="238.15" x2="90.50" y2="238.15" stroke="#000" stroke-width="2.6"/>
<line x1="83.40" y1="231.90" x2="90.50" y2="231.90" stroke="#000" stroke-width="2.6"/>
<line x1="83.40" y1="226.62" x2="90.50" y2="226.62" stroke="#000" stroke-width="2.6"/>
<line x1="83.40" y1="222.05" x2="90.50" y2="222.05" stroke="#000" stroke-width="2.6"/>
<line x1="83.40" y1="218.01" x2="90.50" y2="218.01" stroke="#000" stroke-width="2.6"/>
<line x1="77.30" y1="214.40" x2="90.50" y2="214.40" stroke="#000" stroke-width="2.6"/>
<line x1="83.40" y1="190.65" x2="90.50" y2="190.65" stroke="#000" stroke-width="2.6"/>
<line x1="83.40" y1="176.76" x2="90.50" y2="176.76" stroke="#000" stroke-width="2.6"/>
<line x1="83.40" y1="166.90" x2="90.50" y2="166.90" stroke="#000" stroke-width="2.6"/>
<line x1="83.40" y1="159.25" x2="90.50" y2="159.25" stroke="#000" stroke-width="2.6"/>
<line x1="83.40" y1="153.00" x2="90.50" y2="153.00" stroke="#000" stroke-width="2.6"/>
<line x1="83.40" y1="147.72" x2="90.50" y2="147.72" stroke="#000" stroke-width="2.6"/>
<line x1="83.40" y1="143.15" x2="90.50" y2="143.15" stroke="#000" stroke-width="2.6"/>
<line x1="83.40" y1="139.11" x2="90.50" y2="139.11" stroke="#000" stroke-width="2.6"/>
<line x1="77.30" y1="135.50" x2="90.50" y2="135.50" stroke="#000" stroke-width="2.6"/>
<line x1="83.40" y1="111.75" x2="90.50" y2="111.75" stroke="#000" stroke-width="2.6"/>
<line x1="83.40" y1="97.86" x2="90.50" y2="97.86" stroke="#000" stroke-width="2.6"/>
<line x1="83.40" y1="88.00" x2="90.50" y2="88.00" stroke="#000" stroke-width="2.6"/>
<line x1="83.40" y1="80.35" x2="90.50" y2="80.35" stroke="#000" stroke-width="2.6"/>
<line x1="83.40" y1="74.10" x2="90.50" y2="74.10" stroke="#000" stroke-width="2.6"/>
<line x1="83.40" y1="68.82" x2="90.50" y2="68.82" stroke="#000" stroke-width="2.6"/>
<line x1="83.40" y1="64.25" x2="90.50" y2="64.25" stroke="#000" stroke-width="2.6"/>
<line x1="83.40" y1="60.21" x2="90.50" y2="60.21" stroke="#000" stroke-width="2.6"/>
<line x1="77.30" y1="56.60" x2="90.50" y2="56.60" stroke="#000" stroke-width="2.6"/>
<line x1="83.40" y1="32.85" x2="90.50" y2="32.85" stroke="#000" stroke-width="2.6"/>
<line x1="83.40" y1="18.96" x2="90.50" y2="18.96" stroke="#000" stroke-width="2.6"/>
<line x1="83.40" y1="9.10" x2="90.50" y2="9.10" stroke="#000" stroke-width="2.6"/>
<line x1="83.40" y1="1.45" x2="90.50" y2="1.45" stroke="#000" stroke-width="2.6"/>
<rect x="90.5" y="1.2" width="428" height="346.5" fill="none" stroke="#000" stroke-width="2.9"/>
<text transform="translate(99.1,388.4) scale(0.92,1)" font-family="'Liberation Serif','Times New Roman',serif" font-size="23.8" font-weight="normal" text-anchor="middle" stroke="#000" stroke-width="0.8" letter-spacing="0.7">300</text>
<text transform="translate(146.8,388.4) scale(0.92,1)" font-family="'Liberation Serif','Times New Roman',serif" font-size="23.8" font-weight="normal" text-anchor="middle" stroke="#000" stroke-width="0.8" letter-spacing="0.7">350</text>
<text transform="translate(194.6,388.4) scale(0.92,1)" font-family="'Liberation Serif','Times New Roman',serif" font-size="23.8" font-weight="normal" text-anchor="middle" stroke="#000" stroke-width="0.8" letter-spacing="0.7">400</text>
<text transform="translate(242.3,388.4) scale(0.92,1)" font-family="'Liberation Serif','Times New Roman',serif" font-size="23.8" font-weight="normal" text-anchor="middle" stroke="#000" stroke-width="0.8" letter-spacing="0.7">450</text>
<text transform="translate(290.0,388.4) scale(0.92,1)" font-family="'Liberation Serif','Times New Roman',serif" font-size="23.8" font-weight="normal" text-anchor="middle" stroke="#000" stroke-width="0.8" letter-spacing="0.7">500</text>
<text transform="translate(337.7,388.4) scale(0.92,1)" font-family="'Liberation Serif','Times New Roman',serif" font-size="23.8" font-weight="normal" text-anchor="middle" stroke="#000" stroke-width="0.8" letter-spacing="0.7">550</text>
<text transform="translate(385.5,388.4) scale(0.92,1)" font-family="'Liberation Serif','Times New Roman',serif" font-size="23.8" font-weight="normal" text-anchor="middle" stroke="#000" stroke-width="0.8" letter-spacing="0.7">600</text>
<text transform="translate(433.2,388.4) scale(0.92,1)" font-family="'Liberation Serif','Times New Roman',serif" font-size="23.8" font-weight="normal" text-anchor="middle" stroke="#000" stroke-width="0.8" letter-spacing="0.7">650</text>
<text transform="translate(480.9,388.4) scale(0.92,1)" font-family="'Liberation Serif','Times New Roman',serif" font-size="23.8" font-weight="normal" text-anchor="middle" stroke="#000" stroke-width="0.8" letter-spacing="0.7">700</text>
<text transform="translate(69.2,64.0) scale(0.92,1)" font-family="'Liberation Serif','Times New Roman',serif" font-size="23.8" font-weight="normal" text-anchor="end" stroke="#000" stroke-width="0.8" letter-spacing="1.1">1000</text>
<text transform="translate(69.2,142.9) scale(0.92,1)" font-family="'Liberation Serif','Times New Roman',serif" font-size="23.8" font-weight="normal" text-anchor="end" stroke="#000" stroke-width="0.8" letter-spacing="1.1">100</text>
<text transform="translate(69.2,221.8) scale(0.92,1)" font-family="'Liberation Serif','Times New Roman',serif" font-size="23.8" font-weight="normal" text-anchor="end" stroke="#000" stroke-width="0.8" letter-spacing="1.1">10</text>
<text transform="translate(69.2,300.7) scale(0.92,1)" font-family="'Liberation Serif','Times New Roman',serif" font-size="23.8" font-weight="normal" text-anchor="end" stroke="#000" stroke-width="0.8" letter-spacing="1.1">1</text>
<text transform="translate(18.9,300.2) rotate(-90)" font-family="'Liberation Serif','Times New Roman',serif" font-size="25.5" font-weight="bold" textLength="239" lengthAdjust="spacing" stroke="#000" stroke-width="0.35">Intensity (arb. units)</text>
<text x="190.2" y="417.9" font-family="'Liberation Serif','Times New Roman',serif" font-size="24" font-weight="bold" text-anchor="start" textLength="190.5" lengthAdjust="spacing" stroke="#000" stroke-width="0.35">wavelength (nm)</text>
<text x="102.3" y="32.2" font-family="'Liberation Serif','Times New Roman',serif" font-size="28.5" font-weight="bold" text-anchor="start" textLength="34.5" lengthAdjust="spacing" stroke="#000" stroke-width="0.3">(a)</text>
<text x="222.75 237.94 250.82 272.60 288.54 296.30 306.30 312.42 327.27" y="27.9" font-family="'Liberation Serif','Times New Roman',serif" font-size="23.5" font-weight="bold" stroke="#000" stroke-width="0.3">Sample 3A</text>
<line x1="288.80" y1="62.80" x2="310.50" y2="62.80" stroke="#000" stroke-width="3.2"/>
<line x1="329.20" y1="62.80" x2="350.40" y2="62.80" stroke="#000" stroke-width="3.2"/>
<circle cx="319.3" cy="63.1" r="5.7" fill="#7f00ff"/>
<text x="356.5" y="71.8" font-family="'Liberation Serif','Times New Roman',serif" font-size="25" font-weight="bold" text-anchor="start" textLength="119.5" lengthAdjust="spacing" stroke="#000" stroke-width="0.25">1000 mbar</text>
<line x1="288.80" y1="101.90" x2="311.00" y2="101.90" stroke="#f00" stroke-width="3.2"/>
<line x1="328.80" y1="101.90" x2="350.40" y2="101.90" stroke="#f00" stroke-width="3.2"/>
<path d="M311.6,107.3L328.2,107.3L319.9,93.3Z" fill="#ff0000"/>
<text x="355.5" y="108.7" font-family="'Liberation Serif','Times New Roman',serif" font-size="25" font-weight="bold" text-anchor="start" textLength="66" lengthAdjust="spacing" stroke="#000" stroke-width="0.25">4 x 10</text>
<text x="422.3" y="96.0" font-family="'Liberation Serif','Times New Roman',serif" font-size="15" font-weight="bold" text-anchor="start">-3</text>
<text x="443.8" y="108.7" font-family="'Liberation Serif','Times New Roman',serif" font-size="25" font-weight="bold" text-anchor="start" textLength="60.5" lengthAdjust="spacing" stroke="#000" stroke-width="0.25">mbar</text>
<g clip-path="url(#cb)">
<circle cx="114.3" cy="700.4" r="4.9" fill="#0000ff"/>
<circle cx="116.0" cy="696.0" r="4.9" fill="#0000ff"/>
<circle cx="117.5" cy="692.4" r="4.9" fill="#0000ff"/>
<circle cx="119.0" cy="688.5" r="4.9" fill="#0000ff"/>
<circle cx="120.7" cy="684.5" r="4.9" fill="#0000ff"/>
<circle cx="123.3" cy="674.2" r="4.9" fill="#0000ff"/>
<circle cx="125.5" cy="669.5" r="4.9" fill="#0000ff"/>
<circle cx="127.8" cy="665.4" r="4.9" fill="#0000ff"/>
<circle cx="129.8" cy="662.0" r="4.9" fill="#0000ff"/>
<circle cx="131.8" cy="659.0" r="4.9" fill="#0000ff"/>
<circle cx="133.8" cy="655.8" r="4.9" fill="#0000ff"/>
<circle cx="135.8" cy="652.7" r="4.9" fill="#0000ff"/>
<circle cx="137.5" cy="647.0" r="4.9" fill="#0000ff"/>
<circle cx="139.5" cy="642.0" r="4.9" fill="#0000ff"/>
<circle cx="138.2" cy="639.2" r="4.9" fill="#0000ff"/>
<circle cx="142.1" cy="636.8" r="4.9" fill="#0000ff"/>
<circle cx="146.1" cy="628.0" r="4.9" fill="#0000ff"/>
<circle cx="148.5" cy="617.7" r="4.9" fill="#0000ff"/>
<circle cx="150.1" cy="608.2" r="4.9" fill="#0000ff"/>
<circle cx="151.7" cy="603.4" r="4.9" fill="#0000ff"/>
<circle cx="154.8" cy="593.0" r="4.9" fill="#0000ff"/>
<circle cx="158.8" cy="584.3" r="4.9" fill="#0000ff"/>
<circle cx="163.6" cy="573.2" r="4.9" fill="#0000ff"/>
<circle cx="165.6" cy="570.4" r="4.9" fill="#0000ff"/>
<circle cx="167.6" cy="568.2" r="4.9" fill="#0000ff"/>
<circle cx="169.7" cy="564.7" r="4.9" fill="#0000ff"/>
<circle cx="171.7" cy="561.3" r="4.9" fill="#0000ff"/>
<circle cx="173.7" cy="557.7" r="4.9" fill="#0000ff"/>
<circle cx="175.8" cy="553.9" r="4.9" fill="#0000ff"/>
<circle cx="177.8" cy="548.2" r="4.9" fill="#0000ff"/>
<circle cx="179.8" cy="544.3" r="4.9" fill="#0000ff"/>
<circle cx="181.8" cy="540.6" r="4.9" fill="#0000ff"/>
<circle cx="183.9" cy="537.7" r="4.9" fill="#0000ff"/>
<circle cx="185.9" cy="534.6" r="4.9" fill="#0000ff"/>
<circle cx="187.9" cy="532.5" r="4.9" fill="#0000ff"/>
<circle cx="190.0" cy="529.6" r="4.9" fill="#0000ff"/>
<circle cx="192.0" cy="528.3" r="4.9" fill="#0000ff"/>
<circle cx="194.0" cy="527.1" r="4.9" fill="#0000ff"/>
<circle cx="196.1" cy="525.3" r="4.9" fill="#0000ff"/>
<circle cx="198.1" cy="522.8" r="4.9" fill="#0000ff"/>
<circle cx="200.1" cy="521.2" r="4.9" fill="#0000ff"/>
<circle cx="202.1" cy="520.6" r="4.9" fill="#0000ff"/>
<circle cx="204.2" cy="519.3" r="4.9" fill="#0000ff"/>
<circle cx="206.2" cy="518.8" r="4.9" fill="#0000ff"/>
<circle cx="208.2" cy="518.1" r="4.9" fill="#0000ff"/>
<circle cx="210.3" cy="517.2" r="4.9" fill="#0000ff"/>
<circle cx="212.3" cy="517.4" r="4.9" fill="#0000ff"/>
<circle cx="214.3" cy="517.7" r="4.9" fill="#0000ff"/>
<circle cx="216.4" cy="518.3" r="4.9" fill="#0000ff"/>
<circle cx="218.4" cy="519.5" r="4.9" fill="#0000ff"/>
<circle cx="220.4" cy="520.9" r="4.9" fill="#0000ff"/>
<circle cx="222.4" cy="523.2" r="4.9" fill="#0000ff"/>
<circle cx="224.5" cy="525.5" r="4.9" fill="#0000ff"/>
<circle cx="226.5" cy="526.3" r="4.9" fill="#0000ff"/>
<circle cx="228.5" cy="528.4" r="4.9" fill="#0000ff"/>
<circle cx="230.6" cy="529.7" r="4.9" fill="#0000ff"/>
<circle cx="232.6" cy="531.5" r="4.9" fill="#0000ff"/>
<circle cx="234.6" cy="534.2" r="4.9" fill="#0000ff"/>
<circle cx="236.7" cy="536.2" r="4.9" fill="#0000ff"/>
<circle cx="238.7" cy="538.9" r="4.9" fill="#0000ff"/>
<circle cx="240.7" cy="542.1" r="4.9" fill="#0000ff"/>
<circle cx="242.7" cy="545.5" r="4.9" fill="#0000ff"/>
<circle cx="244.8" cy="548.3" r="4.9" fill="#0000ff"/>
<circle cx="246.8" cy="550.6" r="4.9" fill="#0000ff"/>
<circle cx="248.8" cy="553.5" r="4.9" fill="#0000ff"/>
<circle cx="250.9" cy="559.6" r="4.9" fill="#0000ff"/>
<circle cx="252.9" cy="565.1" r="4.9" fill="#0000ff"/>
<circle cx="254.9" cy="570.5" r="4.9" fill="#0000ff"/>
<circle cx="257.0" cy="576.3" r="4.9" fill="#0000ff"/>
<circle cx="259.0" cy="581.5" r="4.9" fill="#0000ff"/>
<circle cx="261.0" cy="586.0" r="4.9" fill="#0000ff"/>
<circle cx="263.0" cy="591.4" r="4.9" fill="#0000ff"/>
<circle cx="265.1" cy="596.4" r="4.9" fill="#0000ff"/>
<circle cx="267.1" cy="601.6" r="4.9" fill="#0000ff"/>
<circle cx="269.1" cy="608.1" r="4.9" fill="#0000ff"/>
<circle cx="271.2" cy="615.1" r="4.9" fill="#0000ff"/>
<circle cx="273.2" cy="622.9" r="4.9" fill="#0000ff"/>
<circle cx="275.2" cy="628.6" r="4.9" fill="#0000ff"/>
<circle cx="277.2" cy="634.1" r="4.9" fill="#0000ff"/>
<circle cx="279.3" cy="641.4" r="4.9" fill="#0000ff"/>
<circle cx="281.3" cy="647.4" r="4.9" fill="#0000ff"/>
<circle cx="283.3" cy="653.7" r="4.9" fill="#0000ff"/>
<circle cx="285.4" cy="657.6" r="4.9" fill="#0000ff"/>
<circle cx="287.4" cy="662.6" r="4.9" fill="#0000ff"/>
<circle cx="289.4" cy="666.6" r="4.9" fill="#0000ff"/>
<circle cx="291.5" cy="671.5" r="4.9" fill="#0000ff"/>
<circle cx="293.5" cy="676.0" r="4.9" fill="#0000ff"/>
<circle cx="295.5" cy="681.0" r="4.9" fill="#0000ff"/>
<circle cx="297.5" cy="686.3" r="4.9" fill="#0000ff"/>
<circle cx="299.6" cy="691.5" r="4.9" fill="#0000ff"/>
<circle cx="301.6" cy="696.1" r="4.9" fill="#0000ff"/>
<circle cx="303.6" cy="701.3" r="4.9" fill="#0000ff"/>
<circle cx="305.7" cy="705.8" r="4.9" fill="#0000ff"/>
<circle cx="307.7" cy="709.9" r="4.9" fill="#0000ff"/>
<circle cx="309.7" cy="715.1" r="4.9" fill="#0000ff"/>
<circle cx="311.8" cy="719.3" r="4.9" fill="#0000ff"/>
<circle cx="313.8" cy="723.9" r="4.9" fill="#0000ff"/>
<circle cx="315.8" cy="727.3" r="4.9" fill="#0000ff"/>
<circle cx="317.8" cy="731.2" r="4.9" fill="#0000ff"/>
<circle cx="319.9" cy="734.2" r="4.9" fill="#0000ff"/>
<circle cx="321.9" cy="738.0" r="4.9" fill="#0000ff"/>
<circle cx="323.9" cy="741.5" r="4.9" fill="#0000ff"/>
<circle cx="326.0" cy="745.5" r="4.9" fill="#0000ff"/>
<circle cx="328.0" cy="749.1" r="4.9" fill="#0000ff"/>
<circle cx="330.0" cy="751.9" r="4.9" fill="#0000ff"/>
<circle cx="332.1" cy="755.3" r="4.9" fill="#0000ff"/>
<circle cx="334.1" cy="758.2" r="4.9" fill="#0000ff"/>
<circle cx="336.1" cy="760.5" r="4.9" fill="#0000ff"/>
<circle cx="338.1" cy="763.1" r="4.9" fill="#0000ff"/>
<circle cx="340.2" cy="765.3" r="4.9" fill="#0000ff"/>
<circle cx="342.2" cy="767.1" r="4.9" fill="#0000ff"/>
<circle cx="344.2" cy="769.3" r="4.9" fill="#0000ff"/>
<circle cx="346.3" cy="772.1" r="4.9" fill="#0000ff"/>
<circle cx="348.3" cy="773.4" r="4.9" fill="#0000ff"/>
<circle cx="350.3" cy="775.4" r="4.9" fill="#0000ff"/>
<circle cx="352.4" cy="776.7" r="4.9" fill="#0000ff"/>
<circle cx="354.4" cy="778.4" r="4.9" fill="#0000ff"/>
<circle cx="356.4" cy="779.8" r="4.9" fill="#0000ff"/>
<circle cx="358.4" cy="781.9" r="4.9" fill="#0000ff"/>
<circle cx="360.5" cy="783.1" r="4.9" fill="#0000ff"/>
<circle cx="362.5" cy="784.4" r="4.9" fill="#0000ff"/>
<circle cx="364.5" cy="785.7" r="4.9" fill="#0000ff"/>
<circle cx="366.6" cy="786.5" r="4.9" fill="#0000ff"/>
<circle cx="368.6" cy="787.8" r="4.9" fill="#0000ff"/>
<circle cx="370.6" cy="788.4" r="4.9" fill="#0000ff"/>
<circle cx="372.7" cy="789.3" r="4.9" fill="#0000ff"/>
<circle cx="374.7" cy="790.7" r="4.9" fill="#0000ff"/>
<circle cx="376.7" cy="791.5" r="4.9" fill="#0000ff"/>
<circle cx="378.7" cy="792.4" r="4.9" fill="#0000ff"/>
<circle cx="380.8" cy="792.8" r="4.9" fill="#0000ff"/>
<circle cx="382.8" cy="793.9" r="4.9" fill="#0000ff"/>
<circle cx="384.8" cy="794.4" r="4.9" fill="#0000ff"/>
<circle cx="386.9" cy="795.9" r="4.9" fill="#0000ff"/>
<circle cx="388.9" cy="796.6" r="4.9" fill="#0000ff"/>
<circle cx="390.9" cy="796.7" r="4.9" fill="#0000ff"/>
<circle cx="393.0" cy="797.9" r="4.9" fill="#0000ff"/>
<circle cx="395.0" cy="797.7" r="4.9" fill="#0000ff"/>
<circle cx="397.0" cy="798.0" r="4.9" fill="#0000ff"/>
<circle cx="399.0" cy="799.0" r="4.9" fill="#0000ff"/>
<circle cx="401.1" cy="798.9" r="4.9" fill="#0000ff"/>
<circle cx="403.1" cy="799.4" r="4.9" fill="#0000ff"/>
<circle cx="405.1" cy="799.8" r="4.9" fill="#0000ff"/>
<circle cx="407.2" cy="799.5" r="4.9" fill="#0000ff"/>
<circle cx="409.2" cy="800.4" r="4.9" fill="#0000ff"/>
<circle cx="411.2" cy="800.2" r="4.9" fill="#0000ff"/>
<circle cx="413.3" cy="800.6" r="4.9" fill="#0000ff"/>
<circle cx="415.3" cy="800.8" r="4.9" fill="#0000ff"/>
<circle cx="417.3" cy="801.4" r="4.9" fill="#0000ff"/>
<circle cx="419.3" cy="801.6" r="4.9" fill="#0000ff"/>
<circle cx="421.4" cy="801.4" r="4.9" fill="#0000ff"/>
<circle cx="423.4" cy="801.4" r="4.9" fill="#0000ff"/>
<circle cx="425.4" cy="801.9" r="4.9" fill="#0000ff"/>
<circle cx="427.5" cy="802.3" r="4.9" fill="#0000ff"/>
<circle cx="429.5" cy="802.3" r="4.9" fill="#0000ff"/>
<circle cx="431.5" cy="802.7" r="4.9" fill="#0000ff"/>
<circle cx="433.6" cy="803.6" r="4.9" fill="#0000ff"/>
<circle cx="435.6" cy="803.8" r="4.9" fill="#0000ff"/>
<circle cx="437.6" cy="804.3" r="4.9" fill="#0000ff"/>
<circle cx="439.6" cy="804.6" r="4.9" fill="#0000ff"/>
<circle cx="441.7" cy="804.7" r="4.9" fill="#0000ff"/>
<circle cx="443.7" cy="804.4" r="4.9" fill="#0000ff"/>
<circle cx="445.7" cy="804.4" r="4.9" fill="#0000ff"/>
<circle cx="447.8" cy="804.7" r="4.9" fill="#0000ff"/>
<circle cx="449.8" cy="805.0" r="4.9" fill="#0000ff"/>
<circle cx="451.8" cy="805.1" r="4.9" fill="#0000ff"/>
<circle cx="453.9" cy="805.1" r="4.9" fill="#0000ff"/>
<circle cx="455.9" cy="805.0" r="4.9" fill="#0000ff"/>
<circle cx="457.9" cy="805.5" r="4.9" fill="#0000ff"/>
<circle cx="459.9" cy="805.0" r="4.9" fill="#0000ff"/>
<circle cx="462.0" cy="805.2" r="4.9" fill="#0000ff"/>
<circle cx="464.0" cy="805.6" r="4.9" fill="#0000ff"/>
<circle cx="466.0" cy="805.6" r="4.9" fill="#0000ff"/>
<circle cx="468.1" cy="805.1" r="4.9" fill="#0000ff"/>
<circle cx="470.1" cy="805.0" r="4.9" fill="#0000ff"/>
<circle cx="472.1" cy="805.6" r="4.9" fill="#0000ff"/>
<circle cx="474.2" cy="804.9" r="4.9" fill="#0000ff"/>
<circle cx="476.2" cy="805.0" r="4.9" fill="#0000ff"/>
<circle cx="478.2" cy="805.4" r="4.9" fill="#0000ff"/>
<circle cx="480.2" cy="805.4" r="4.9" fill="#0000ff"/>
<circle cx="482.3" cy="805.1" r="4.9" fill="#0000ff"/>
<circle cx="484.3" cy="805.0" r="4.9" fill="#0000ff"/>
<circle cx="486.3" cy="805.1" r="4.9" fill="#0000ff"/>
<circle cx="488.4" cy="805.7" r="4.9" fill="#0000ff"/>
<circle cx="490.4" cy="805.4" r="4.9" fill="#0000ff"/>
<circle cx="492.4" cy="806.0" r="4.9" fill="#0000ff"/>
<circle cx="494.5" cy="805.8" r="4.9" fill="#0000ff"/>
<circle cx="496.5" cy="806.0" r="4.9" fill="#0000ff"/>
<path d="M138.1,746.0L151.3,746.0L144.7,734.4ZM138.9,743.2L152.1,743.2L145.5,731.6ZM139.8,737.5L153.0,737.5L146.4,725.9ZM140.7,733.9L153.9,733.9L147.3,722.3ZM141.5,731.5L154.7,731.5L148.1,719.9ZM142.6,727.9L155.8,727.9L149.2,716.3ZM143.3,724.1L156.5,724.1L149.9,712.5ZM144.4,722.8L157.6,722.8L151.0,711.2ZM145.6,720.3L158.8,720.3L152.2,708.7ZM147.0,714.2L160.2,714.2L153.6,702.6ZM147.8,714.2L161.0,714.2L154.4,702.6ZM149.8,708.6L163.0,708.6L156.4,697.0ZM151.2,705.4L164.4,705.4L157.8,693.8ZM152.1,701.6L165.3,701.6L158.7,690.0ZM153.2,700.5L166.4,700.5L159.8,688.9ZM155.1,696.3L168.3,696.3L161.7,684.7ZM156.0,692.7L169.2,692.7L162.6,681.1ZM157.5,688.7L170.7,688.7L164.1,677.1ZM158.3,684.2L171.5,684.2L164.9,672.6ZM159.2,679.7L172.4,679.7L165.8,668.1ZM159.8,678.7L173.0,678.7L166.4,667.1ZM160.8,672.5L174.0,672.5L167.4,660.9ZM161.2,669.5L174.4,669.5L167.8,657.9ZM161.8,667.8L175.0,667.8L168.4,656.2ZM162.6,665.3L175.8,665.3L169.2,653.7ZM163.3,660.2L176.5,660.2L169.9,648.6ZM164.6,656.8L177.8,656.8L171.2,645.2ZM166.1,654.6L179.3,654.6L172.7,643.0ZM167.5,649.8L180.7,649.8L174.1,638.2ZM168.0,648.1L181.2,648.1L174.6,636.5ZM169.4,642.9L182.6,642.9L176.0,631.3ZM170.2,640.9L183.4,640.9L176.8,629.3ZM171.5,634.0L184.7,634.0L178.1,622.4ZM172.5,631.9L185.7,631.9L179.1,620.3ZM173.4,630.5L186.6,630.5L180.0,618.9ZM174.2,624.1L187.4,624.1L180.8,612.5ZM174.5,623.6L187.7,623.6L181.1,612.0ZM175.2,618.4L188.4,618.4L181.8,606.8ZM176.5,614.2L189.7,614.2L183.1,602.6ZM177.3,614.4L190.5,614.4L183.9,602.8ZM178.9,606.1L192.1,606.1L185.5,594.5ZM179.4,603.7L192.6,603.7L186.0,592.1ZM180.1,600.5L193.3,600.5L186.7,588.9ZM181.2,594.6L194.4,594.6L187.8,583.0ZM181.6,593.2L194.8,593.2L188.2,581.6ZM182.4,591.5L195.6,591.5L189.0,579.9ZM183.8,588.3L197.0,588.3L190.4,576.7ZM184.8,585.2L198.0,585.2L191.4,573.6ZM185.6,581.0L198.8,581.0L192.2,569.4ZM187.6,575.1L200.8,575.1L194.2,563.5ZM188.4,574.8L201.6,574.8L195.0,563.2ZM189.9,571.8L203.1,571.8L196.5,560.2ZM191.2,567.8L204.4,567.8L197.8,556.2ZM193.5,562.3L206.7,562.3L200.1,550.7ZM194.9,559.4L208.1,559.4L201.5,547.8ZM196.5,558.2L209.7,558.2L203.1,546.6ZM197.8,553.9L211.0,553.9L204.4,542.3ZM198.8,554.8L212.0,554.8L205.4,543.2ZM200.5,550.3L213.7,550.3L207.1,538.7ZM202.7,550.8L215.9,550.8L209.3,539.2ZM203.6,550.5L216.8,550.5L210.2,538.9ZM205.7,547.0L218.9,547.0L212.3,535.4ZM206.9,546.6L220.1,546.6L213.5,535.0ZM209.3,545.7L222.5,545.7L215.9,534.1ZM210.1,545.2L223.3,545.2L216.7,533.6ZM211.7,546.2L224.9,546.2L218.3,534.6ZM214.0,545.6L227.2,545.6L220.6,534.0ZM214.9,549.4L228.1,549.4L221.5,537.8ZM217.3,551.0L230.5,551.0L223.9,539.4ZM218.2,549.1L231.4,549.1L224.8,537.5ZM220.5,551.7L233.7,551.7L227.1,540.1ZM221.8,552.2L235.0,552.2L228.4,540.6ZM222.8,553.1L236.0,553.1L229.4,541.5ZM225.1,556.6L238.3,556.6L231.7,545.0ZM226.5,556.5L239.7,556.5L233.1,544.9ZM228.1,558.1L241.3,558.1L234.7,546.5ZM229.7,562.1L242.9,562.1L236.3,550.5ZM231.0,563.6L244.2,563.6L237.6,552.0ZM233.3,569.0L246.5,569.0L239.9,557.4ZM234.1,570.8L247.3,570.8L240.7,559.2ZM236.4,570.8L249.6,570.8L243.0,559.2ZM237.4,572.4L250.6,572.4L244.0,560.8ZM238.8,577.7L252.0,577.7L245.4,566.1ZM240.8,580.8L254.0,580.8L247.4,569.2ZM242.1,580.0L255.3,580.0L248.7,568.4ZM244.4,587.8L257.6,587.8L251.0,576.2ZM246.1,590.8L259.3,590.8L252.7,579.2ZM247.2,593.5L260.4,593.5L253.8,581.9ZM248.4,595.0L261.6,595.0L255.0,583.4ZM250.2,597.5L263.4,597.5L256.8,585.9ZM251.8,602.0L265.0,602.0L258.4,590.4ZM253.1,605.3L266.3,605.3L259.7,593.7ZM254.2,608.2L267.4,608.2L260.8,596.6ZM255.8,614.7L269.0,614.7L262.4,603.1ZM257.4,618.3L270.6,618.3L264.0,606.7ZM258.6,619.1L271.8,619.1L265.2,607.5ZM260.0,622.8L273.2,622.8L266.6,611.2ZM260.6,625.3L273.8,625.3L267.2,613.7ZM262.3,629.3L275.5,629.3L268.9,617.7ZM263.5,632.2L276.7,632.2L270.1,620.6ZM265.0,636.9L278.2,636.9L271.6,625.3ZM266.0,639.6L279.2,639.6L272.6,628.0ZM267.6,645.7L280.8,645.7L274.2,634.1ZM268.5,646.3L281.7,646.3L275.1,634.7ZM269.7,648.4L282.9,648.4L276.3,636.8ZM270.8,654.5L284.0,654.5L277.4,642.9ZM272.2,655.1L285.4,655.1L278.8,643.5ZM273.7,659.7L286.9,659.7L280.3,648.1ZM275.4,663.2L288.6,663.2L282.0,651.6ZM276.2,665.8L289.4,665.8L282.8,654.2ZM278.1,670.2L291.3,670.2L284.7,658.6ZM279.4,674.7L292.6,674.7L286.0,663.1ZM280.3,675.3L293.5,675.3L286.9,663.7ZM281.6,679.3L294.8,679.3L288.2,667.7ZM282.9,683.4L296.1,683.4L289.5,671.8ZM284.6,687.4L297.8,687.4L291.2,675.8ZM285.4,687.9L298.6,687.9L292.0,676.3ZM286.9,693.2L300.1,693.2L293.5,681.6ZM288.1,694.0L301.3,694.0L294.7,682.4ZM289.6,698.5L302.8,698.5L296.2,686.9ZM290.7,702.2L303.9,702.2L297.3,690.6ZM292.9,707.2L306.1,707.2L299.5,695.6ZM294.1,711.2L307.3,711.2L300.7,699.6ZM295.7,715.0L308.9,715.0L302.3,703.4ZM296.9,716.6L310.1,716.6L303.5,705.0ZM298.1,720.0L311.3,720.0L304.7,708.4ZM299.8,722.3L313.0,722.3L306.4,710.7ZM301.7,725.9L314.9,725.9L308.3,714.3ZM302.5,729.9L315.7,729.9L309.1,718.3ZM304.4,730.8L317.6,730.8L311.0,719.2ZM305.4,733.8L318.6,733.8L312.0,722.2ZM307.0,738.4L320.2,738.4L313.6,726.8ZM308.8,738.8L322.0,738.8L315.4,727.2ZM310.6,742.5L323.8,742.5L317.2,730.9ZM312.2,745.4L325.4,745.4L318.8,733.8ZM314.0,747.6L327.2,747.6L320.6,736.0ZM315.1,751.6L328.3,751.6L321.7,740.0ZM317.3,752.2L330.5,752.2L323.9,740.6ZM318.6,757.5L331.8,757.5L325.2,745.9ZM320.8,758.6L334.0,758.6L327.4,747.0ZM321.4,761.3L334.6,761.3L328.0,749.7ZM323.4,765.1L336.6,765.1L330.0,753.5ZM325.4,766.5L338.6,766.5L332.0,754.9ZM326.6,768.6L339.8,768.6L333.2,757.0ZM328.6,770.2L341.8,770.2L335.2,758.6ZM329.8,771.2L343.0,771.2L336.4,759.6ZM331.6,773.0L344.8,773.0L338.2,761.4ZM333.5,775.7L346.7,775.7L340.1,764.1ZM334.8,775.8L348.0,775.8L341.4,764.2ZM336.0,777.6L349.2,777.6L342.6,766.0ZM338.2,779.3L351.4,779.3L344.8,767.7ZM339.3,780.9L352.5,780.9L345.9,769.3ZM341.2,781.2L354.4,781.2L347.8,769.6ZM342.4,781.3L355.6,781.3L349.0,769.7ZM344.7,782.2L357.9,782.2L351.3,770.6ZM345.9,783.9L359.1,783.9L352.5,772.3ZM347.3,785.0L360.5,785.0L353.9,773.4ZM349.5,786.2L362.7,786.2L356.1,774.6ZM350.9,785.3L364.1,785.3L357.5,773.7ZM351.9,786.2L365.1,786.2L358.5,774.6ZM353.7,786.4L366.9,786.4L360.3,774.8ZM355.8,787.2L369.0,787.2L362.4,775.6ZM357.4,789.4L370.6,789.4L364.0,777.8ZM358.3,789.7L371.5,789.7L364.9,778.1ZM360.2,788.9L373.4,788.9L366.8,777.3ZM361.6,789.1L374.8,789.1L368.2,777.5ZM363.5,790.7L376.7,790.7L370.1,779.1ZM365.4,792.6L378.6,792.6L372.0,781.0ZM366.3,792.0L379.5,792.0L372.9,780.4ZM368.2,792.4L381.4,792.4L374.8,780.8ZM369.6,793.2L382.8,793.2L376.2,781.6ZM371.7,794.1L384.9,794.1L378.3,782.5ZM372.7,794.3L385.9,794.3L379.3,782.7ZM374.6,795.6L387.8,795.6L381.2,784.0ZM376.0,796.4L389.2,796.4L382.6,784.8ZM377.6,796.7L390.8,796.7L384.2,785.1ZM379.6,796.2L392.8,796.2L386.2,784.6ZM381.3,797.1L394.5,797.1L387.9,785.5ZM382.7,797.9L395.9,797.9L389.3,786.3ZM384.4,798.0L397.6,798.0L391.0,786.4ZM385.5,799.0L398.7,799.0L392.1,787.4ZM387.8,798.9L401.0,798.9L394.4,787.3ZM389.2,798.7L402.4,798.7L395.8,787.1ZM391.1,800.0L404.3,800.0L397.7,788.4ZM392.0,800.5L405.2,800.5L398.6,788.9ZM394.3,799.9L407.5,799.9L400.9,788.3ZM396.0,800.6L409.2,800.6L402.6,789.0ZM396.8,801.2L410.0,801.2L403.4,789.6ZM398.5,801.6L411.7,801.6L405.1,790.0ZM400.4,800.6L413.6,800.6L407.0,789.0ZM401.9,802.5L415.1,802.5L408.5,790.9ZM403.5,802.1L416.7,802.1L410.1,790.5ZM405.4,802.2L418.6,802.2L412.0,790.6ZM406.7,802.7L419.9,802.7L413.3,791.1ZM408.6,802.2L421.8,802.2L415.2,790.6ZM409.5,803.6L422.7,803.6L416.1,792.0ZM411.5,802.9L424.7,802.9L418.1,791.3ZM413.5,804.5L426.7,804.5L420.1,792.9ZM414.7,804.9L427.9,804.9L421.3,793.3ZM416.6,804.6L429.8,804.6L423.2,793.0ZM417.7,803.1L430.9,803.1L424.3,791.5ZM419.7,804.9L432.9,804.9L426.3,793.3ZM420.9,804.5L434.1,804.5L427.5,792.9ZM422.7,804.2L435.9,804.2L429.3,792.6ZM424.5,805.0L437.7,805.0L431.1,793.4ZM425.8,804.1L439.0,804.1L432.4,792.5ZM427.5,804.7L440.7,804.7L434.1,793.1ZM429.3,804.6L442.5,804.6L435.9,793.0ZM430.6,804.7L443.8,804.7L437.2,793.1ZM432.2,805.6L445.4,805.6L438.8,794.0ZM433.5,804.6L446.7,804.6L440.1,793.0ZM435.5,805.0L448.7,805.0L442.1,793.4ZM437.1,805.0L450.3,805.0L443.7,793.4ZM438.3,805.8L451.5,805.8L444.9,794.2ZM440.7,806.6L453.9,806.6L447.3,795.0ZM441.9,805.6L455.1,805.6L448.5,794.0ZM443.1,805.4L456.3,805.4L449.7,793.8ZM444.9,806.9L458.1,806.9L451.5,795.3ZM446.3,807.0L459.5,807.0L452.9,795.4ZM448.3,805.9L461.5,805.9L454.9,794.3ZM449.7,807.1L462.9,807.1L456.3,795.5ZM451.2,806.3L464.4,806.3L457.8,794.7ZM453.1,805.6L466.3,805.6L459.7,794.0ZM454.4,807.4L467.6,807.4L461.0,795.8ZM456.6,806.9L469.8,806.9L463.2,795.3ZM458.3,805.6L471.5,805.6L464.9,794.0ZM459.7,807.1L472.9,807.1L466.3,795.5ZM460.8,806.5L474.0,806.5L467.4,794.9ZM463.1,806.2L476.3,806.2L469.7,794.6ZM464.5,805.9L477.7,805.9L471.1,794.3ZM466.0,806.1L479.2,806.1L472.6,794.5ZM467.5,806.4L480.7,806.4L474.1,794.8ZM469.4,807.2L482.6,807.2L476.0,795.6ZM470.7,807.1L483.9,807.1L477.3,795.5ZM472.2,807.4L485.4,807.4L478.8,795.8ZM473.6,806.8L486.8,806.8L480.2,795.2ZM475.6,806.5L488.8,806.5L482.2,794.9ZM476.6,806.0L489.8,806.0L483.2,794.4ZM478.8,806.1L492.0,806.1L485.4,794.5ZM480.5,806.8L493.7,806.8L487.1,795.2ZM482.3,807.6L495.5,807.6L488.9,796.0ZM483.7,806.5L496.9,806.5L490.3,794.9ZM484.6,806.9L497.8,806.9L491.2,795.3ZM486.9,807.7L500.1,807.7L493.5,796.1ZM488.0,806.0L501.2,806.0L494.6,794.4ZM490.3,807.3L503.5,807.3L496.9,795.7Z" fill="#ff0000"/>
</g>
<line x1="91.50" y1="805.30" x2="91.50" y2="819.30" stroke="#000" stroke-width="2.7"/>
<line x1="101.66" y1="805.30" x2="101.66" y2="813.60" stroke="#000" stroke-width="2.7"/>
<line x1="111.82" y1="805.30" x2="111.82" y2="813.60" stroke="#000" stroke-width="2.7"/>
<line x1="121.98" y1="805.30" x2="121.98" y2="813.60" stroke="#000" stroke-width="2.7"/>
<line x1="132.14" y1="805.30" x2="132.14" y2="813.60" stroke="#000" stroke-width="2.7"/>
<line x1="142.30" y1="805.30" x2="142.30" y2="819.30" stroke="#000" stroke-width="2.7"/>
<line x1="152.46" y1="805.30" x2="152.46" y2="813.60" stroke="#000" stroke-width="2.7"/>
<line x1="162.62" y1="805.30" x2="162.62" y2="813.60" stroke="#000" stroke-width="2.7"/>
<line x1="172.78" y1="805.30" x2="172.78" y2="813.60" stroke="#000" stroke-width="2.7"/>
<line x1="182.94" y1="805.30" x2="182.94" y2="813.60" stroke="#000" stroke-width="2.7"/>
<line x1="193.10" y1="805.30" x2="193.10" y2="819.30" stroke="#000" stroke-width="2.7"/>
<line x1="203.26" y1="805.30" x2="203.26" y2="813.60" stroke="#000" stroke-width="2.7"/>
<line x1="213.42" y1="805.30" x2="213.42" y2="813.60" stroke="#000" stroke-width="2.7"/>
<line x1="223.58" y1="805.30" x2="223.58" y2="813.60" stroke="#000" stroke-width="2.7"/>
<line x1="233.74" y1="805.30" x2="233.74" y2="813.60" stroke="#000" stroke-width="2.7"/>
<line x1="243.90" y1="805.30" x2="243.90" y2="819.30" stroke="#000" stroke-width="2.7"/>
<line x1="254.06" y1="805.30" x2="254.06" y2="813.60" stroke="#000" stroke-width="2.7"/>
<line x1="264.22" y1="805.30" x2="264.22" y2="813.60" stroke="#000" stroke-width="2.7"/>
<line x1="274.38" y1="805.30" x2="274.38" y2="813.60" stroke="#000" stroke-width="2.7"/>
<line x1="284.54" y1="805.30" x2="284.54" y2="813.60" stroke="#000" stroke-width="2.7"/>
<line x1="294.70" y1="805.30" x2="294.70" y2="819.30" stroke="#000" stroke-width="2.7"/>
<line x1="304.86" y1="805.30" x2="304.86" y2="813.60" stroke="#000" stroke-width="2.7"/>
<line x1="315.02" y1="805.30" x2="315.02" y2="813.60" stroke="#000" stroke-width="2.7"/>
<line x1="325.18" y1="805.30" x2="325.18" y2="813.60" stroke="#000" stroke-width="2.7"/>
<line x1="335.34" y1="805.30" x2="335.34" y2="813.60" stroke="#000" stroke-width="2.7"/>
<line x1="345.50" y1="805.30" x2="345.50" y2="819.30" stroke="#000" stroke-width="2.7"/>
<line x1="355.66" y1="805.30" x2="355.66" y2="813.60" stroke="#000" stroke-width="2.7"/>
<line x1="365.82" y1="805.30" x2="365.82" y2="813.60" stroke="#000" stroke-width="2.7"/>
<line x1="375.98" y1="805.30" x2="375.98" y2="813.60" stroke="#000" stroke-width="2.7"/>
<line x1="386.14" y1="805.30" x2="386.14" y2="813.60" stroke="#000" stroke-width="2.7"/>
<line x1="396.30" y1="805.30" x2="396.30" y2="819.30" stroke="#000" stroke-width="2.7"/>
<line x1="406.46" y1="805.30" x2="406.46" y2="813.60" stroke="#000" stroke-width="2.7"/>
<line x1="416.62" y1="805.30" x2="416.62" y2="813.60" stroke="#000" stroke-width="2.7"/>
<line x1="426.78" y1="805.30" x2="426.78" y2="813.60" stroke="#000" stroke-width="2.7"/>
<line x1="436.94" y1="805.30" x2="436.94" y2="813.60" stroke="#000" stroke-width="2.7"/>
<line x1="447.10" y1="805.30" x2="447.10" y2="819.30" stroke="#000" stroke-width="2.7"/>
<line x1="457.26" y1="805.30" x2="457.26" y2="813.60" stroke="#000" stroke-width="2.7"/>
<line x1="467.42" y1="805.30" x2="467.42" y2="813.60" stroke="#000" stroke-width="2.7"/>
<line x1="477.58" y1="805.30" x2="477.58" y2="813.60" stroke="#000" stroke-width="2.7"/>
<line x1="487.74" y1="805.30" x2="487.74" y2="813.60" stroke="#000" stroke-width="2.7"/>
<line x1="497.90" y1="805.30" x2="497.90" y2="819.30" stroke="#000" stroke-width="2.7"/>
<line x1="508.06" y1="805.30" x2="508.06" y2="813.60" stroke="#000" stroke-width="2.7"/>
<line x1="518.22" y1="805.30" x2="518.22" y2="813.60" stroke="#000" stroke-width="2.7"/>
<line x1="79.40" y1="805.30" x2="91.70" y2="805.30" stroke="#000" stroke-width="2.6"/>
<line x1="86.20" y1="792.56" x2="91.70" y2="792.56" stroke="#000" stroke-width="2.6"/>
<line x1="86.20" y1="779.82" x2="91.70" y2="779.82" stroke="#000" stroke-width="2.6"/>
<line x1="86.20" y1="767.08" x2="91.70" y2="767.08" stroke="#000" stroke-width="2.6"/>
<line x1="86.20" y1="754.34" x2="91.70" y2="754.34" stroke="#000" stroke-width="2.6"/>
<line x1="79.40" y1="741.60" x2="91.70" y2="741.60" stroke="#000" stroke-width="2.6"/>
<line x1="86.20" y1="728.86" x2="91.70" y2="728.86" stroke="#000" stroke-width="2.6"/>
<line x1="86.20" y1="716.12" x2="91.70" y2="716.12" stroke="#000" stroke-width="2.6"/>
<line x1="86.20" y1="703.38" x2="91.70" y2="703.38" stroke="#000" stroke-width="2.6"/>
<line x1="86.20" y1="690.64" x2="91.70" y2="690.64" stroke="#000" stroke-width="2.6"/>
<line x1="79.40" y1="677.90" x2="91.70" y2="677.90" stroke="#000" stroke-width="2.6"/>
<line x1="86.20" y1="665.16" x2="91.70" y2="665.16" stroke="#000" stroke-width="2.6"/>
<line x1="86.20" y1="652.42" x2="91.70" y2="652.42" stroke="#000" stroke-width="2.6"/>
<line x1="86.20" y1="639.68" x2="91.70" y2="639.68" stroke="#000" stroke-width="2.6"/>
<line x1="86.20" y1="626.94" x2="91.70" y2="626.94" stroke="#000" stroke-width="2.6"/>
<line x1="79.40" y1="614.20" x2="91.70" y2="614.20" stroke="#000" stroke-width="2.6"/>
<line x1="86.20" y1="601.46" x2="91.70" y2="601.46" stroke="#000" stroke-width="2.6"/>
<line x1="86.20" y1="588.72" x2="91.70" y2="588.72" stroke="#000" stroke-width="2.6"/>
<line x1="86.20" y1="575.98" x2="91.70" y2="575.98" stroke="#000" stroke-width="2.6"/>
<line x1="86.20" y1="563.24" x2="91.70" y2="563.24" stroke="#000" stroke-width="2.6"/>
<line x1="79.40" y1="550.50" x2="91.70" y2="550.50" stroke="#000" stroke-width="2.6"/>
<line x1="86.20" y1="537.76" x2="91.70" y2="537.76" stroke="#000" stroke-width="2.6"/>
<line x1="86.20" y1="525.02" x2="91.70" y2="525.02" stroke="#000" stroke-width="2.6"/>
<line x1="86.20" y1="512.28" x2="91.70" y2="512.28" stroke="#000" stroke-width="2.6"/>
<line x1="86.20" y1="499.54" x2="91.70" y2="499.54" stroke="#000" stroke-width="2.6"/>
<line x1="79.40" y1="486.80" x2="91.70" y2="486.80" stroke="#000" stroke-width="2.6"/>
<line x1="86.20" y1="474.06" x2="91.70" y2="474.06" stroke="#000" stroke-width="2.6"/>
<line x1="86.20" y1="461.32" x2="91.70" y2="461.32" stroke="#000" stroke-width="2.6"/>
<rect x="91.7" y="456" width="426.6" height="349.3" fill="none" stroke="#000" stroke-width="2.7"/>
<text x="91.5" y="842" font-family="'Liberation Sans',Arial,sans-serif" font-size="17.5" font-weight="normal" text-anchor="middle" stroke="#000" stroke-width="0.3">300</text>
<text x="142.3" y="842" font-family="'Liberation Sans',Arial,sans-serif" font-size="17.5" font-weight="normal" text-anchor="middle" stroke="#000" stroke-width="0.3">350</text>
<text x="193.1" y="842" font-family="'Liberation Sans',Arial,sans-serif" font-size="17.5" font-weight="normal" text-anchor="middle" stroke="#000" stroke-width="0.3">400</text>
<text x="243.9" y="842" font-family="'Liberation Sans',Arial,sans-serif" font-size="17.5" font-weight="normal" text-anchor="middle" stroke="#000" stroke-width="0.3">450</text>
<text x="294.7" y="842" font-family="'Liberation Sans',Arial,sans-serif" font-size="17.5" font-weight="normal" text-anchor="middle" stroke="#000" stroke-width="0.3">500</text>
<text x="345.5" y="842" font-family="'Liberation Sans',Arial,sans-serif" font-size="17.5" font-weight="normal" text-anchor="middle" stroke="#000" stroke-width="0.3">550</text>
<text x="396.3" y="842" font-family="'Liberation Sans',Arial,sans-serif" font-size="17.5" font-weight="normal" text-anchor="middle" stroke="#000" stroke-width="0.3">600</text>
<text x="447.1" y="842" font-family="'Liberation Sans',Arial,sans-serif" font-size="17.5" font-weight="normal" text-anchor="middle" stroke="#000" stroke-width="0.3">650</text>
<text x="497.9" y="842" font-family="'Liberation Sans',Arial,sans-serif" font-size="17.5" font-weight="normal" text-anchor="middle" stroke="#000" stroke-width="0.3">700</text>
<text x="69.3" y="810.8" font-family="'Liberation Sans',Arial,sans-serif" font-size="17.5" font-weight="normal" text-anchor="end" stroke="#000" stroke-width="0.3">0</text>
<text x="69.3" y="747.1" font-family="'Liberation Sans',Arial,sans-serif" font-size="17.5" font-weight="normal" text-anchor="end" stroke="#000" stroke-width="0.3">20</text>
<text x="69.3" y="683.4" font-family="'Liberation Sans',Arial,sans-serif" font-size="17.5" font-weight="normal" text-anchor="end" stroke="#000" stroke-width="0.3">40</text>
<text x="69.3" y="619.7" font-family="'Liberation Sans',Arial,sans-serif" font-size="17.5" font-weight="normal" text-anchor="end" stroke="#000" stroke-width="0.3">60</text>
<text x="69.3" y="556.0" font-family="'Liberation Sans',Arial,sans-serif" font-size="17.5" font-weight="normal" text-anchor="end" stroke="#000" stroke-width="0.3">80</text>
<text x="69.3" y="492.3" font-family="'Liberation Sans',Arial,sans-serif" font-size="17.5" font-weight="normal" text-anchor="end" stroke="#000" stroke-width="0.3">100</text>
<text transform="translate(35.2,759) rotate(-90)" font-family="'Liberation Serif','Times New Roman',serif" font-size="25.5" font-weight="bold" textLength="242" lengthAdjust="spacing" stroke="#000" stroke-width="0.35">Intensity (arb. units)</text>
<text x="181.5" y="873.7" font-family="'Liberation Serif','Times New Roman',serif" font-size="24" font-weight="bold" text-anchor="start" textLength="187" lengthAdjust="spacing" stroke="#000" stroke-width="0.35">wavelength (nm)</text>
<text x="103.6" y="487.6" font-family="'Liberation Serif','Times New Roman',serif" font-size="24" font-weight="bold" text-anchor="start" textLength="32.5" lengthAdjust="spacing" stroke="#000" stroke-width="0.3">(b)</text>
<text x="237.35 251.94 264.82 287.40 301.94 308.70 318.70 327.12 340.31" y="480.4" font-family="'Liberation Serif','Times New Roman',serif" font-size="23.5" font-weight="bold" stroke="#000" stroke-width="0.3">Sample 3B</text>
<line x1="301.90" y1="516.90" x2="316.00" y2="516.90" stroke="#0000ff" stroke-width="3"/>
<line x1="327.00" y1="516.90" x2="340.50" y2="516.90" stroke="#0000ff" stroke-width="3"/>
<path d="M320.4,512.3L324.9,517.3L320.4,522.5L315.9,517.3Z" fill="#0000ff"/>
<text x="342" y="522.8" font-family="'Liberation Serif','Times New Roman',serif" font-size="25" font-weight="bold" text-anchor="start" textLength="121.3" lengthAdjust="spacing" stroke="#000" stroke-width="0.25">1000 mbar</text>
<line x1="301.90" y1="556.60" x2="315.00" y2="556.60" stroke="#f00" stroke-width="3"/>
<line x1="327.50" y1="556.60" x2="340.50" y2="556.60" stroke="#f00" stroke-width="3"/>
<path d="M314.6,561.9L327.4,561.9L321,550.8Z" fill="#ff0000"/>
<text x="346" y="561.8" font-family="'Liberation Serif','Times New Roman',serif" font-size="25" font-weight="bold" text-anchor="start" textLength="66" lengthAdjust="spacing" stroke="#000" stroke-width="0.25">1 x 10</text>
<text x="412.6" y="547.3" font-family="'Liberation Serif','Times New Roman',serif" font-size="15" font-weight="bold" text-anchor="start">-3</text>
<text x="432.5" y="561.8" font-family="'Liberation Serif','Times New Roman',serif" font-size="25" font-weight="bold" text-anchor="start" textLength="60.5" lengthAdjust="spacing" stroke="#000" stroke-width="0.25">mbar</text>
<line x1="167.5" y1="671.0" x2="196" y2="687.3" stroke="#000" stroke-width="2.6"/>
<path d="M209.6,695.2L191.5,689.9L197.2,680.5Z" fill="#000" stroke="#000" stroke-width="0.8" stroke-linejoin="round"/>
<text x="211.6" y="730.6" font-family="'Liberation Sans',Arial,sans-serif" font-size="24.8" font-weight="normal" text-anchor="start" textLength="45.5" lengthAdjust="spacing" stroke="#000" stroke-width="1.1">X10</text>
</svg></body></html>
